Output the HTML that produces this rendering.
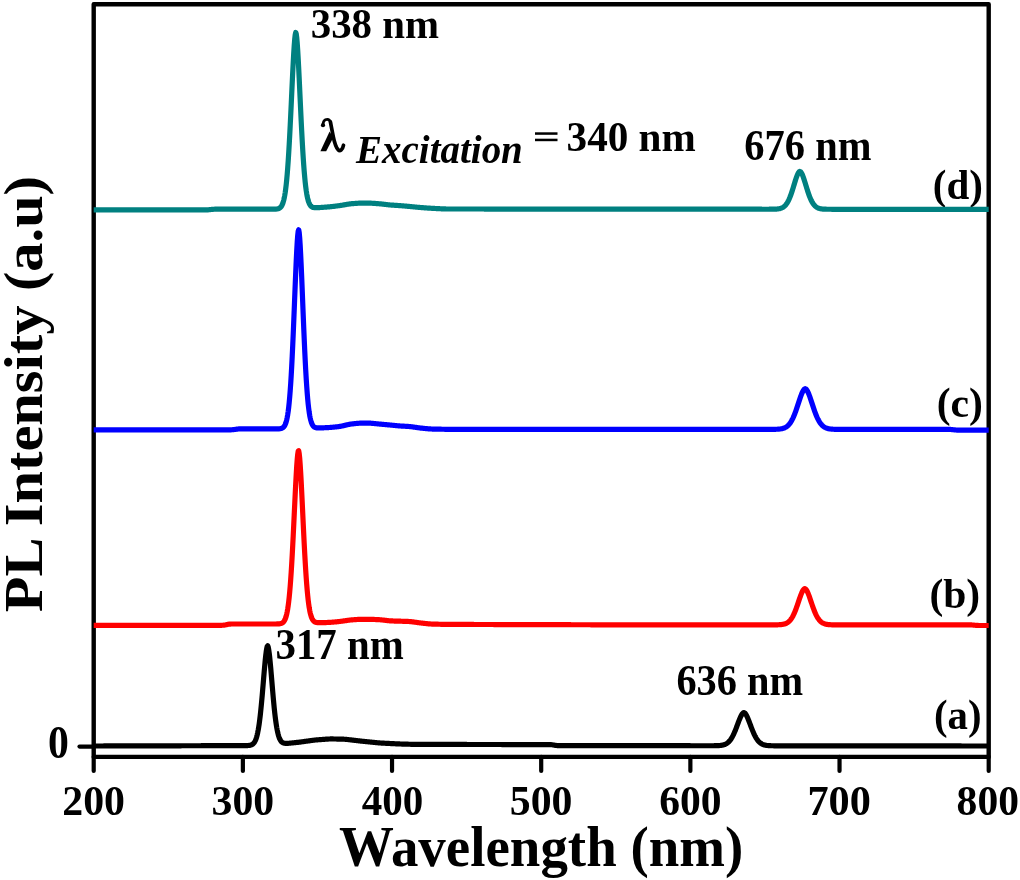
<!DOCTYPE html>
<html><head><meta charset="utf-8"><style>html,body{margin:0;padding:0;background:#fff;overflow:hidden}svg{display:block;filter:blur(0.6px)}</style></head>
<body><svg width="1020" height="880" viewBox="0 0 1020 880"><rect width="100%" height="100%" fill="#fff"/><g fill="#000"><text x="310.76" y="37.90" font-family="Liberation Serif" font-weight="bold" font-size="42.7" textLength="128.23" lengthAdjust="spacingAndGlyphs" >338 nm</text><text x="744.32" y="160.10" font-family="Liberation Serif" font-weight="bold" font-size="44.2" textLength="127.08" lengthAdjust="spacingAndGlyphs" >676 nm</text><text x="275.46" y="658.50" font-family="Liberation Serif" font-weight="bold" font-size="43.5" textLength="128.23" lengthAdjust="spacingAndGlyphs" >317 nm</text><text x="676.42" y="695.20" font-family="Liberation Serif" font-weight="bold" font-size="43.9" textLength="126.77" lengthAdjust="spacingAndGlyphs" >636 nm</text><text x="566.55" y="151.10" font-family="Liberation Serif" font-weight="bold" font-size="43.1" textLength="129.25" lengthAdjust="spacingAndGlyphs" >340 nm</text><rect x="535" y="132.3" width="22.5" height="2.5"/><rect x="535" y="138.7" width="22.5" height="2.5"/><text x="356.09" y="162.60" font-family="Liberation Serif" font-weight="bold" font-style="italic" font-size="40.8" textLength="166.72" lengthAdjust="spacingAndGlyphs" >Excitation</text><path d="M322.9,125.6 C322.9,121.5 324.8,119.4 327.3,119.4 C329.2,119.4 330.3,120.8 330.8,123" fill="none" stroke="#000" stroke-width="2.7" stroke-linecap="round"/><path d="M330.4,121.8 L333.2,136.4 C334.4,142.2 335.8,147.2 338,149.6 C340,151.6 342.6,150.2 343.5,145.2" fill="none" stroke="#000" stroke-width="3.7" stroke-linecap="round"/><circle cx="323" cy="125.2" r="2.1"/><path d="M329.6,131.6 L333.3,137.6 L326.2,151.3 L320.4,151.3 Z"/><text x="932.80" y="199.00" font-family="Liberation Serif" font-weight="bold" font-size="42.3" textLength="50.10" lengthAdjust="spacingAndGlyphs" >(d)</text><text x="936.67" y="416.50" font-family="Liberation Serif" font-weight="bold" font-size="42.3" textLength="46.26" lengthAdjust="spacingAndGlyphs" >(c)</text><text x="929.38" y="608.30" font-family="Liberation Serif" font-weight="bold" font-size="42.3" textLength="50.75" lengthAdjust="spacingAndGlyphs" >(b)</text><text x="933.91" y="729.00" font-family="Liberation Serif" font-weight="bold" font-size="42.3" textLength="47.59" lengthAdjust="spacingAndGlyphs" >(a)</text><text x="48.11" y="757.60" font-family="Liberation Serif" font-weight="bold" font-size="46.9" textLength="20.88" lengthAdjust="spacingAndGlyphs" >0</text><text x="62.24" y="815.00" font-family="Liberation Serif" font-weight="bold" font-size="42.3" textLength="62.75" lengthAdjust="spacingAndGlyphs" >200</text><text x="211.60" y="815.00" font-family="Liberation Serif" font-weight="bold" font-size="42.3" textLength="62.56" lengthAdjust="spacingAndGlyphs" >300</text><text x="361.77" y="815.00" font-family="Liberation Serif" font-weight="bold" font-size="42.3" textLength="61.52" lengthAdjust="spacingAndGlyphs" >400</text><text x="509.83" y="815.00" font-family="Liberation Serif" font-weight="bold" font-size="42.3" textLength="62.66" lengthAdjust="spacingAndGlyphs" >500</text><text x="659.24" y="815.00" font-family="Liberation Serif" font-weight="bold" font-size="42.3" textLength="62.41" lengthAdjust="spacingAndGlyphs" >600</text><text x="807.42" y="815.00" font-family="Liberation Serif" font-weight="bold" font-size="42.3" textLength="63.43" lengthAdjust="spacingAndGlyphs" >700</text><text x="956.62" y="815.00" font-family="Liberation Serif" font-weight="bold" font-size="42.3" textLength="62.36" lengthAdjust="spacingAndGlyphs" >800</text><text x="339.03" y="865.80" font-family="Liberation Serif" font-weight="bold" font-size="56.5" textLength="404.27" lengthAdjust="spacingAndGlyphs" >Wavelength (nm)</text><g transform="rotate(-90)"><text x="-612.19" y="41.60" font-family="Liberation Serif" font-weight="bold" font-size="55" textLength="436.24" lengthAdjust="spacingAndGlyphs" >PL Intensity (a.u)</text></g></g><rect x="93.7" y="4.3" width="895.0" height="752.6" fill="none" stroke="#000" stroke-width="4.4" stroke-linejoin="round"/><g stroke="#000" stroke-width="4.2" stroke-linecap="round"><line x1="93.70" y1="756.9" x2="93.70" y2="771" /><line x1="242.87" y1="756.9" x2="242.87" y2="771" /><line x1="392.03" y1="756.9" x2="392.03" y2="771" /><line x1="541.20" y1="756.9" x2="541.20" y2="771" /><line x1="690.37" y1="756.9" x2="690.37" y2="771" /><line x1="839.53" y1="756.9" x2="839.53" y2="771" /><line x1="988.70" y1="756.9" x2="988.70" y2="771" /><line x1="79.5" y1="746.6" x2="93.7" y2="746.6"/></g><path d="M93.70,209.90 L94.20,209.90 L94.70,209.90 L95.20,209.90 L95.70,209.90 L96.20,209.90 L96.70,209.90 L97.20,209.90 L97.70,209.90 L98.20,209.90 L98.70,209.90 L99.20,209.90 L99.70,209.90 L100.20,209.90 L100.70,209.90 L101.20,209.90 L101.70,209.90 L102.20,209.90 L102.70,209.90 L103.20,209.90 L103.70,209.90 L104.20,209.90 L104.70,209.90 L105.20,209.90 L105.70,209.90 L106.20,209.90 L106.70,209.90 L107.20,209.90 L107.70,209.90 L108.20,209.90 L108.70,209.90 L109.20,209.90 L109.70,209.90 L110.20,209.90 L110.70,209.90 L111.20,209.90 L111.70,209.90 L112.20,209.90 L112.70,209.90 L113.20,209.90 L113.70,209.90 L114.20,209.90 L114.70,209.90 L115.20,209.90 L115.70,209.90 L116.20,209.90 L116.70,209.90 L117.20,209.90 L117.70,209.90 L118.20,209.90 L118.70,209.90 L119.20,209.90 L119.70,209.90 L120.20,209.90 L120.70,209.90 L121.20,209.90 L121.70,209.90 L122.20,209.90 L122.70,209.90 L123.20,209.90 L123.70,209.90 L124.20,209.90 L124.70,209.90 L125.20,209.90 L125.70,209.90 L126.20,209.90 L126.70,209.90 L127.20,209.90 L127.70,209.90 L128.20,209.90 L128.70,209.90 L129.20,209.90 L129.70,209.90 L130.20,209.90 L130.70,209.90 L131.20,209.90 L131.70,209.90 L132.20,209.90 L132.70,209.90 L133.20,209.90 L133.70,209.90 L134.20,209.90 L134.70,209.90 L135.20,209.90 L135.70,209.90 L136.20,209.90 L136.70,209.90 L137.20,209.90 L137.70,209.90 L138.20,209.90 L138.70,209.90 L139.20,209.90 L139.70,209.90 L140.20,209.90 L140.70,209.90 L141.20,209.90 L141.70,209.90 L142.20,209.90 L142.70,209.90 L143.20,209.90 L143.70,209.90 L144.20,209.90 L144.70,209.90 L145.20,209.90 L145.70,209.90 L146.20,209.90 L146.70,209.90 L147.20,209.90 L147.70,209.90 L148.20,209.90 L148.70,209.90 L149.20,209.90 L149.70,209.90 L150.20,209.90 L150.70,209.90 L151.20,209.90 L151.70,209.90 L152.20,209.90 L152.70,209.90 L153.20,209.90 L153.70,209.90 L154.20,209.90 L154.70,209.90 L155.20,209.90 L155.70,209.90 L156.20,209.90 L156.70,209.90 L157.20,209.90 L157.70,209.90 L158.20,209.90 L158.70,209.90 L159.20,209.90 L159.70,209.90 L160.20,209.90 L160.70,209.90 L161.20,209.90 L161.70,209.90 L162.20,209.90 L162.70,209.90 L163.20,209.90 L163.70,209.90 L164.20,209.90 L164.70,209.90 L165.20,209.90 L165.70,209.90 L166.20,209.90 L166.70,209.90 L167.20,209.90 L167.70,209.90 L168.20,209.90 L168.70,209.90 L169.20,209.90 L169.70,209.90 L170.20,209.90 L170.70,209.90 L171.20,209.90 L171.70,209.90 L172.20,209.90 L172.70,209.90 L173.20,209.90 L173.70,209.90 L174.20,209.90 L174.70,209.90 L175.20,209.90 L175.70,209.90 L176.20,209.90 L176.70,209.90 L177.20,209.90 L177.70,209.90 L178.20,209.90 L178.70,209.90 L179.20,209.90 L179.70,209.90 L180.20,209.90 L180.70,209.90 L181.20,209.90 L181.70,209.90 L182.20,209.90 L182.70,209.90 L183.20,209.90 L183.70,209.90 L184.20,209.90 L184.70,209.90 L185.20,209.90 L185.70,209.90 L186.20,209.90 L186.70,209.90 L187.20,209.90 L187.70,209.90 L188.20,209.90 L188.70,209.90 L189.20,209.90 L189.70,209.90 L190.20,209.90 L190.70,209.90 L191.20,209.90 L191.70,209.90 L192.20,209.90 L192.70,209.90 L193.20,209.90 L193.70,209.90 L194.20,209.90 L194.70,209.90 L195.20,209.90 L195.70,209.90 L196.20,209.90 L196.70,209.90 L197.20,209.90 L197.70,209.90 L198.20,209.90 L198.70,209.90 L199.20,209.90 L199.70,209.90 L200.20,209.90 L200.70,209.90 L201.20,209.90 L201.70,209.90 L202.20,209.90 L202.70,209.90 L203.20,209.90 L203.70,209.90 L204.20,209.90 L204.70,209.90 L205.20,209.90 L205.70,209.89 L206.20,209.88 L206.70,209.87 L207.20,209.85 L207.70,209.83 L208.20,209.80 L208.70,209.76 L209.20,209.71 L209.70,209.65 L210.20,209.59 L210.70,209.52 L211.20,209.46 L211.70,209.40 L212.20,209.35 L212.70,209.31 L213.20,209.28 L213.70,209.25 L214.20,209.23 L214.70,209.22 L215.20,209.21 L215.70,209.21 L216.20,209.20 L216.70,209.20 L217.20,209.20 L217.70,209.20 L218.20,209.20 L218.70,209.20 L219.20,209.20 L219.70,209.20 L220.20,209.20 L220.70,209.20 L221.20,209.20 L221.70,209.20 L222.20,209.20 L222.70,209.20 L223.20,209.20 L223.70,209.20 L224.20,209.20 L224.70,209.20 L225.20,209.20 L225.70,209.20 L226.20,209.20 L226.70,209.20 L227.20,209.20 L227.70,209.20 L228.20,209.20 L228.70,209.20 L229.20,209.20 L229.70,209.20 L230.20,209.20 L230.70,209.20 L231.20,209.20 L231.70,209.20 L232.20,209.20 L232.70,209.20 L233.20,209.20 L233.70,209.20 L234.20,209.20 L234.70,209.20 L235.20,209.20 L235.70,209.20 L236.20,209.20 L236.70,209.20 L237.20,209.20 L237.70,209.20 L238.20,209.20 L238.70,209.20 L239.20,209.20 L239.70,209.20 L240.20,209.20 L240.70,209.20 L241.20,209.20 L241.70,209.20 L242.20,209.20 L242.70,209.20 L243.20,209.20 L243.70,209.20 L244.20,209.20 L244.70,209.20 L245.20,209.20 L245.70,209.20 L246.20,209.20 L246.70,209.20 L247.20,209.20 L247.70,209.20 L248.20,209.20 L248.70,209.20 L249.20,209.20 L249.70,209.20 L250.20,209.20 L250.70,209.20 L251.20,209.20 L251.70,209.20 L252.20,209.20 L252.70,209.20 L253.20,209.20 L253.70,209.20 L254.20,209.20 L254.70,209.20 L255.20,209.20 L255.70,209.20 L256.20,209.20 L256.70,209.20 L257.20,209.20 L257.70,209.20 L258.20,209.20 L258.70,209.20 L259.20,209.20 L259.70,209.20 L260.20,209.20 L260.70,209.20 L261.20,209.20 L261.70,209.20 L262.20,209.20 L262.70,209.20 L263.20,209.20 L263.70,209.20 L264.20,209.20 L264.70,209.20 L265.20,209.20 L265.70,209.20 L266.20,209.20 L266.70,209.20 L267.20,209.20 L267.70,209.20 L268.20,209.20 L268.70,209.20 L269.20,209.20 L269.70,209.20 L270.20,209.20 L270.70,209.20 L271.20,209.20 L271.70,209.19 L272.20,209.19 L272.70,209.19 L273.20,209.18 L273.70,209.18 L274.20,209.17 L274.70,209.15 L275.20,209.13 L275.70,209.10 L276.20,209.06 L276.70,209.01 L277.20,208.94 L277.70,208.84 L278.20,208.71 L278.70,208.54 L279.20,208.32 L279.70,208.03 L280.20,207.65 L280.70,207.17 L281.20,206.55 L281.70,205.78 L282.20,204.82 L282.70,203.63 L283.20,202.16 L283.70,200.37 L284.20,198.21 L284.70,195.63 L285.20,192.55 L285.70,188.94 L286.20,184.73 L286.70,179.86 L287.20,174.31 L287.70,168.02 L288.20,160.98 L288.70,153.20 L289.20,144.69 L289.70,135.50 L290.20,125.71 L290.70,115.42 L291.20,104.79 L291.70,93.99 L292.20,83.22 L292.70,72.74 L293.20,62.82 L293.70,53.74 L294.20,45.81 L294.70,39.37 L295.20,34.78 L295.70,32.50 L296.20,33.53 L296.70,37.23 L297.20,42.94 L297.70,50.27 L298.20,58.90 L298.70,68.49 L299.20,78.74 L299.70,89.39 L300.20,100.17 L300.70,110.85 L301.20,121.26 L301.70,131.23 L302.20,140.63 L302.70,149.39 L303.20,157.43 L303.70,164.73 L304.20,171.28 L304.70,177.09 L305.20,182.19 L305.70,186.62 L306.20,190.43 L306.70,193.67 L307.20,196.41 L307.70,198.70 L308.20,200.59 L308.70,202.15 L309.20,203.41 L309.70,204.43 L310.20,205.24 L310.70,205.88 L311.20,206.37 L311.70,206.76 L312.20,207.05 L312.70,207.27 L313.20,207.44 L313.70,207.55 L314.20,207.63 L314.70,207.68 L315.20,207.71 L315.70,207.72 L316.20,207.72 L316.70,207.71 L317.20,207.70 L317.70,207.67 L318.20,207.64 L318.70,207.61 L319.20,207.58 L319.70,207.55 L320.20,207.51 L320.70,207.48 L321.20,207.44 L321.70,207.41 L322.20,207.37 L322.70,207.33 L323.20,207.30 L323.70,207.26 L324.20,207.23 L324.70,207.19 L325.20,207.15 L325.70,207.11 L326.20,207.08 L326.70,207.04 L327.20,207.00 L327.70,206.96 L328.20,206.92 L328.70,206.88 L329.20,206.84 L329.70,206.79 L330.20,206.74 L330.70,206.69 L331.20,206.64 L331.70,206.59 L332.20,206.53 L332.70,206.47 L333.20,206.41 L333.70,206.35 L334.20,206.30 L334.70,206.24 L335.20,206.18 L335.70,206.12 L336.20,206.05 L336.70,205.99 L337.20,205.93 L337.70,205.87 L338.20,205.80 L338.70,205.74 L339.20,205.67 L339.70,205.60 L340.20,205.52 L340.70,205.44 L341.20,205.36 L341.70,205.28 L342.20,205.20 L342.70,205.11 L343.20,205.02 L343.70,204.93 L344.20,204.84 L344.70,204.75 L345.20,204.66 L345.70,204.58 L346.20,204.49 L346.70,204.40 L347.20,204.31 L347.70,204.23 L348.20,204.15 L348.70,204.07 L349.20,203.99 L349.70,203.93 L350.20,203.86 L350.70,203.81 L351.20,203.75 L351.70,203.70 L352.20,203.66 L352.70,203.62 L353.20,203.58 L353.70,203.54 L354.20,203.51 L354.70,203.47 L355.20,203.44 L355.70,203.40 L356.20,203.37 L356.70,203.33 L357.20,203.30 L357.70,203.27 L358.20,203.24 L358.70,203.21 L359.20,203.19 L359.70,203.17 L360.20,203.15 L360.70,203.13 L361.20,203.12 L361.70,203.12 L362.20,203.11 L362.70,203.11 L363.20,203.10 L363.70,203.10 L364.20,203.10 L364.70,203.10 L365.20,203.10 L365.70,203.10 L366.20,203.10 L366.70,203.10 L367.20,203.10 L367.70,203.11 L368.20,203.11 L368.70,203.12 L369.20,203.13 L369.70,203.15 L370.20,203.16 L370.70,203.18 L371.20,203.21 L371.70,203.23 L372.20,203.26 L372.70,203.29 L373.20,203.33 L373.70,203.36 L374.20,203.39 L374.70,203.43 L375.20,203.46 L375.70,203.50 L376.20,203.53 L376.70,203.57 L377.20,203.61 L377.70,203.65 L378.20,203.68 L378.70,203.72 L379.20,203.77 L379.70,203.81 L380.20,203.86 L380.70,203.91 L381.20,203.96 L381.70,204.01 L382.20,204.07 L382.70,204.13 L383.20,204.19 L383.70,204.25 L384.20,204.30 L384.70,204.36 L385.20,204.42 L385.70,204.48 L386.20,204.54 L386.70,204.60 L387.20,204.66 L387.70,204.72 L388.20,204.77 L388.70,204.83 L389.20,204.88 L389.70,204.92 L390.20,204.97 L390.70,205.01 L391.20,205.05 L391.70,205.09 L392.20,205.12 L392.70,205.16 L393.20,205.19 L393.70,205.22 L394.20,205.25 L394.70,205.28 L395.20,205.31 L395.70,205.34 L396.20,205.37 L396.70,205.40 L397.20,205.43 L397.70,205.47 L398.20,205.50 L398.70,205.53 L399.20,205.57 L399.70,205.60 L400.20,205.64 L400.70,205.68 L401.20,205.72 L401.70,205.76 L402.20,205.80 L402.70,205.85 L403.20,205.89 L403.70,205.93 L404.20,205.98 L404.70,206.02 L405.20,206.07 L405.70,206.11 L406.20,206.16 L406.70,206.20 L407.20,206.25 L407.70,206.29 L408.20,206.34 L408.70,206.39 L409.20,206.43 L409.70,206.48 L410.20,206.53 L410.70,206.57 L411.20,206.62 L411.70,206.67 L412.20,206.72 L412.70,206.77 L413.20,206.82 L413.70,206.87 L414.20,206.92 L414.70,206.97 L415.20,207.02 L415.70,207.07 L416.20,207.12 L416.70,207.17 L417.20,207.22 L417.70,207.27 L418.20,207.31 L418.70,207.36 L419.20,207.41 L419.70,207.45 L420.20,207.49 L420.70,207.53 L421.20,207.57 L421.70,207.61 L422.20,207.65 L422.70,207.69 L423.20,207.72 L423.70,207.76 L424.20,207.79 L424.70,207.83 L425.20,207.86 L425.70,207.90 L426.20,207.93 L426.70,207.97 L427.20,208.00 L427.70,208.04 L428.20,208.07 L428.70,208.10 L429.20,208.14 L429.70,208.17 L430.20,208.20 L430.70,208.23 L431.20,208.26 L431.70,208.29 L432.20,208.32 L432.70,208.34 L433.20,208.37 L433.70,208.40 L434.20,208.42 L434.70,208.45 L435.20,208.48 L435.70,208.50 L436.20,208.53 L436.70,208.56 L437.20,208.58 L437.70,208.61 L438.20,208.64 L438.70,208.66 L439.20,208.69 L439.70,208.72 L440.20,208.74 L440.70,208.77 L441.20,208.80 L441.70,208.82 L442.20,208.85 L442.70,208.87 L443.20,208.89 L443.70,208.91 L444.20,208.93 L444.70,208.95 L445.20,208.96 L445.70,208.97 L446.20,208.98 L446.70,208.99 L447.20,208.99 L447.70,209.00 L448.20,209.00 L448.70,209.00 L449.20,209.00 L449.70,209.00 L450.20,209.00 L450.70,209.00 L451.20,209.00 L451.70,209.00 L452.20,209.00 L452.70,209.00 L453.20,209.01 L453.70,209.01 L454.20,209.01 L454.70,209.01 L455.20,209.01 L455.70,209.01 L456.20,209.01 L456.70,209.01 L457.20,209.01 L457.70,209.01 L458.20,209.01 L458.70,209.01 L459.20,209.01 L459.70,209.01 L460.20,209.01 L460.70,209.01 L461.20,209.01 L461.70,209.01 L462.20,209.01 L462.70,209.01 L463.20,209.01 L463.70,209.01 L464.20,209.01 L464.70,209.01 L465.20,209.01 L465.70,209.01 L466.20,209.01 L466.70,209.01 L467.20,209.01 L467.70,209.01 L468.20,209.01 L468.70,209.02 L469.20,209.02 L469.70,209.02 L470.20,209.02 L470.70,209.02 L471.20,209.02 L471.70,209.02 L472.20,209.02 L472.70,209.02 L473.20,209.02 L473.70,209.02 L474.20,209.02 L474.70,209.02 L475.20,209.02 L475.70,209.02 L476.20,209.02 L476.70,209.02 L477.20,209.02 L477.70,209.02 L478.20,209.02 L478.70,209.02 L479.20,209.02 L479.70,209.02 L480.20,209.02 L480.70,209.02 L481.20,209.02 L481.70,209.02 L482.20,209.02 L482.70,209.02 L483.20,209.02 L483.70,209.02 L484.20,209.03 L484.70,209.03 L485.20,209.03 L485.70,209.03 L486.20,209.03 L486.70,209.03 L487.20,209.03 L487.70,209.03 L488.20,209.03 L488.70,209.03 L489.20,209.03 L489.70,209.03 L490.20,209.03 L490.70,209.03 L491.20,209.03 L491.70,209.03 L492.20,209.03 L492.70,209.03 L493.20,209.03 L493.70,209.03 L494.20,209.03 L494.70,209.03 L495.20,209.03 L495.70,209.03 L496.20,209.03 L496.70,209.03 L497.20,209.03 L497.70,209.03 L498.20,209.03 L498.70,209.03 L499.20,209.03 L499.70,209.04 L500.20,209.04 L500.70,209.04 L501.20,209.04 L501.70,209.04 L502.20,209.04 L502.70,209.04 L503.20,209.04 L503.70,209.04 L504.20,209.04 L504.70,209.04 L505.20,209.04 L505.70,209.04 L506.20,209.04 L506.70,209.04 L507.20,209.04 L507.70,209.04 L508.20,209.04 L508.70,209.04 L509.20,209.04 L509.70,209.04 L510.20,209.04 L510.70,209.04 L511.20,209.04 L511.70,209.04 L512.20,209.04 L512.70,209.04 L513.20,209.04 L513.70,209.04 L514.20,209.04 L514.70,209.04 L515.20,209.05 L515.70,209.05 L516.20,209.05 L516.70,209.05 L517.20,209.05 L517.70,209.05 L518.20,209.05 L518.70,209.05 L519.20,209.05 L519.70,209.05 L520.20,209.05 L520.70,209.05 L521.20,209.05 L521.70,209.05 L522.20,209.05 L522.70,209.05 L523.20,209.05 L523.70,209.05 L524.20,209.05 L524.70,209.05 L525.20,209.05 L525.70,209.05 L526.20,209.05 L526.70,209.05 L527.20,209.05 L527.70,209.05 L528.20,209.05 L528.70,209.05 L529.20,209.05 L529.70,209.05 L530.20,209.05 L530.70,209.06 L531.20,209.06 L531.70,209.06 L532.20,209.06 L532.70,209.06 L533.20,209.06 L533.70,209.06 L534.20,209.06 L534.70,209.06 L535.20,209.06 L535.70,209.06 L536.20,209.06 L536.70,209.06 L537.20,209.06 L537.70,209.06 L538.20,209.06 L538.70,209.06 L539.20,209.06 L539.70,209.06 L540.20,209.06 L540.70,209.06 L541.20,209.06 L541.70,209.06 L542.20,209.06 L542.70,209.06 L543.20,209.06 L543.70,209.06 L544.20,209.06 L544.70,209.06 L545.20,209.06 L545.70,209.06 L546.20,209.07 L546.70,209.07 L547.20,209.07 L547.70,209.07 L548.20,209.07 L548.70,209.07 L549.20,209.07 L549.70,209.07 L550.20,209.07 L550.70,209.07 L551.20,209.07 L551.70,209.07 L552.20,209.07 L552.70,209.07 L553.20,209.07 L553.70,209.07 L554.20,209.07 L554.70,209.07 L555.20,209.07 L555.70,209.07 L556.20,209.07 L556.70,209.07 L557.20,209.07 L557.70,209.07 L558.20,209.07 L558.70,209.07 L559.20,209.07 L559.70,209.07 L560.20,209.07 L560.70,209.07 L561.20,209.07 L561.70,209.08 L562.20,209.08 L562.70,209.08 L563.20,209.08 L563.70,209.08 L564.20,209.08 L564.70,209.08 L565.20,209.08 L565.70,209.08 L566.20,209.08 L566.70,209.08 L567.20,209.08 L567.70,209.08 L568.20,209.08 L568.70,209.08 L569.20,209.08 L569.70,209.08 L570.20,209.08 L570.70,209.08 L571.20,209.08 L571.70,209.08 L572.20,209.08 L572.70,209.08 L573.20,209.08 L573.70,209.08 L574.20,209.08 L574.70,209.08 L575.20,209.08 L575.70,209.08 L576.20,209.08 L576.70,209.08 L577.20,209.09 L577.70,209.09 L578.20,209.09 L578.70,209.09 L579.20,209.09 L579.70,209.09 L580.20,209.09 L580.70,209.09 L581.20,209.09 L581.70,209.09 L582.20,209.09 L582.70,209.09 L583.20,209.09 L583.70,209.09 L584.20,209.09 L584.70,209.09 L585.20,209.09 L585.70,209.09 L586.20,209.09 L586.70,209.09 L587.20,209.09 L587.70,209.09 L588.20,209.09 L588.70,209.09 L589.20,209.09 L589.70,209.09 L590.20,209.09 L590.70,209.09 L591.20,209.09 L591.70,209.09 L592.20,209.09 L592.70,209.10 L593.20,209.10 L593.70,209.10 L594.20,209.10 L594.70,209.10 L595.20,209.10 L595.70,209.10 L596.20,209.10 L596.70,209.10 L597.20,209.10 L597.70,209.10 L598.20,209.10 L598.70,209.10 L599.20,209.10 L599.70,209.10 L600.20,209.10 L600.70,209.10 L601.20,209.10 L601.70,209.10 L602.20,209.10 L602.70,209.10 L603.20,209.10 L603.70,209.10 L604.20,209.10 L604.70,209.10 L605.20,209.10 L605.70,209.10 L606.20,209.10 L606.70,209.11 L607.20,209.11 L607.70,209.11 L608.20,209.11 L608.70,209.11 L609.20,209.11 L609.70,209.11 L610.20,209.11 L610.70,209.11 L611.20,209.11 L611.70,209.11 L612.20,209.11 L612.70,209.11 L613.20,209.11 L613.70,209.11 L614.20,209.11 L614.70,209.11 L615.20,209.11 L615.70,209.11 L616.20,209.11 L616.70,209.11 L617.20,209.11 L617.70,209.11 L618.20,209.11 L618.70,209.11 L619.20,209.11 L619.70,209.12 L620.20,209.12 L620.70,209.12 L621.20,209.12 L621.70,209.12 L622.20,209.12 L622.70,209.12 L623.20,209.12 L623.70,209.12 L624.20,209.12 L624.70,209.12 L625.20,209.12 L625.70,209.12 L626.20,209.12 L626.70,209.12 L627.20,209.12 L627.70,209.12 L628.20,209.12 L628.70,209.12 L629.20,209.12 L629.70,209.12 L630.20,209.12 L630.70,209.12 L631.20,209.12 L631.70,209.12 L632.20,209.12 L632.70,209.13 L633.20,209.13 L633.70,209.13 L634.20,209.13 L634.70,209.13 L635.20,209.13 L635.70,209.13 L636.20,209.13 L636.70,209.13 L637.20,209.13 L637.70,209.13 L638.20,209.13 L638.70,209.13 L639.20,209.13 L639.70,209.13 L640.20,209.13 L640.70,209.13 L641.20,209.13 L641.70,209.13 L642.20,209.13 L642.70,209.13 L643.20,209.13 L643.70,209.13 L644.20,209.13 L644.70,209.13 L645.20,209.13 L645.70,209.14 L646.20,209.14 L646.70,209.14 L647.20,209.14 L647.70,209.14 L648.20,209.14 L648.70,209.14 L649.20,209.14 L649.70,209.14 L650.20,209.14 L650.70,209.14 L651.20,209.14 L651.70,209.14 L652.20,209.14 L652.70,209.14 L653.20,209.14 L653.70,209.14 L654.20,209.14 L654.70,209.14 L655.20,209.14 L655.70,209.14 L656.20,209.14 L656.70,209.14 L657.20,209.14 L657.70,209.14 L658.20,209.14 L658.70,209.15 L659.20,209.15 L659.70,209.15 L660.20,209.15 L660.70,209.15 L661.20,209.15 L661.70,209.15 L662.20,209.15 L662.70,209.15 L663.20,209.15 L663.70,209.15 L664.20,209.15 L664.70,209.15 L665.20,209.15 L665.70,209.15 L666.20,209.15 L666.70,209.15 L667.20,209.15 L667.70,209.15 L668.20,209.15 L668.70,209.15 L669.20,209.15 L669.70,209.15 L670.20,209.15 L670.70,209.15 L671.20,209.15 L671.70,209.16 L672.20,209.16 L672.70,209.16 L673.20,209.16 L673.70,209.16 L674.20,209.16 L674.70,209.16 L675.20,209.16 L675.70,209.16 L676.20,209.16 L676.70,209.16 L677.20,209.16 L677.70,209.16 L678.20,209.16 L678.70,209.16 L679.20,209.16 L679.70,209.16 L680.20,209.16 L680.70,209.16 L681.20,209.16 L681.70,209.16 L682.20,209.16 L682.70,209.16 L683.20,209.16 L683.70,209.16 L684.20,209.16 L684.70,209.17 L685.20,209.17 L685.70,209.17 L686.20,209.17 L686.70,209.17 L687.20,209.17 L687.70,209.17 L688.20,209.17 L688.70,209.17 L689.20,209.17 L689.70,209.17 L690.20,209.17 L690.70,209.17 L691.20,209.17 L691.70,209.17 L692.20,209.17 L692.70,209.17 L693.20,209.17 L693.70,209.17 L694.20,209.17 L694.70,209.17 L695.20,209.17 L695.70,209.17 L696.20,209.17 L696.70,209.17 L697.20,209.18 L697.70,209.18 L698.20,209.18 L698.70,209.18 L699.20,209.18 L699.70,209.18 L700.20,209.18 L700.70,209.18 L701.20,209.18 L701.70,209.18 L702.20,209.18 L702.70,209.18 L703.20,209.18 L703.70,209.18 L704.20,209.18 L704.70,209.18 L705.20,209.18 L705.70,209.18 L706.20,209.18 L706.70,209.18 L707.20,209.18 L707.70,209.18 L708.20,209.18 L708.70,209.18 L709.20,209.18 L709.70,209.18 L710.20,209.19 L710.70,209.19 L711.20,209.19 L711.70,209.19 L712.20,209.19 L712.70,209.19 L713.20,209.19 L713.70,209.19 L714.20,209.19 L714.70,209.19 L715.20,209.19 L715.70,209.19 L716.20,209.19 L716.70,209.19 L717.20,209.19 L717.70,209.19 L718.20,209.19 L718.70,209.19 L719.20,209.19 L719.70,209.19 L720.20,209.19 L720.70,209.19 L721.20,209.19 L721.70,209.19 L722.20,209.19 L722.70,209.19 L723.20,209.20 L723.70,209.20 L724.20,209.20 L724.70,209.20 L725.20,209.20 L725.70,209.20 L726.20,209.20 L726.70,209.20 L727.20,209.20 L727.70,209.20 L728.20,209.20 L728.70,209.20 L729.20,209.20 L729.70,209.20 L730.20,209.20 L730.70,209.20 L731.20,209.20 L731.70,209.20 L732.20,209.20 L732.70,209.20 L733.20,209.20 L733.70,209.20 L734.20,209.20 L734.70,209.20 L735.20,209.20 L735.70,209.20 L736.20,209.21 L736.70,209.21 L737.20,209.21 L737.70,209.21 L738.20,209.21 L738.70,209.21 L739.20,209.21 L739.70,209.21 L740.20,209.21 L740.70,209.21 L741.20,209.21 L741.70,209.21 L742.20,209.21 L742.70,209.21 L743.20,209.21 L743.70,209.21 L744.20,209.21 L744.70,209.21 L745.20,209.21 L745.70,209.21 L746.20,209.21 L746.70,209.21 L747.20,209.21 L747.70,209.21 L748.20,209.21 L748.70,209.21 L749.20,209.22 L749.70,209.22 L750.20,209.22 L750.70,209.22 L751.20,209.22 L751.70,209.22 L752.20,209.22 L752.70,209.22 L753.20,209.22 L753.70,209.22 L754.20,209.22 L754.70,209.22 L755.20,209.22 L755.70,209.22 L756.20,209.22 L756.70,209.22 L757.20,209.22 L757.70,209.22 L758.20,209.22 L758.70,209.22 L759.20,209.22 L759.70,209.22 L760.20,209.22 L760.70,209.22 L761.20,209.22 L761.70,209.22 L762.20,209.23 L762.70,209.23 L763.20,209.23 L763.70,209.23 L764.20,209.23 L764.70,209.23 L765.20,209.23 L765.70,209.23 L766.20,209.23 L766.70,209.23 L767.20,209.23 L767.70,209.23 L768.20,209.23 L768.70,209.23 L769.20,209.22 L769.70,209.22 L770.20,209.22 L770.70,209.22 L771.20,209.21 L771.70,209.21 L772.20,209.21 L772.70,209.20 L773.20,209.19 L773.70,209.18 L774.20,209.17 L774.70,209.15 L775.20,209.13 L775.70,209.10 L776.20,209.07 L776.70,209.04 L777.20,208.99 L777.70,208.94 L778.20,208.88 L778.70,208.80 L779.20,208.71 L779.70,208.61 L780.20,208.48 L780.70,208.33 L781.20,208.16 L781.70,207.97 L782.20,207.74 L782.70,207.47 L783.20,207.17 L783.70,206.82 L784.20,206.43 L784.70,205.98 L785.20,205.48 L785.70,204.92 L786.20,204.29 L786.70,203.59 L787.20,202.82 L787.70,201.98 L788.20,201.06 L788.70,200.05 L789.20,198.96 L789.70,197.80 L790.20,196.55 L790.70,195.23 L791.20,193.83 L791.70,192.36 L792.20,190.84 L792.70,189.27 L793.20,187.65 L793.70,186.01 L794.20,184.37 L794.70,182.72 L795.20,181.11 L795.70,179.54 L796.20,178.03 L796.70,176.62 L797.20,175.32 L797.70,174.15 L798.20,173.16 L798.70,172.35 L799.20,171.76 L799.70,171.44 L800.20,171.48 L800.70,171.86 L801.20,172.50 L801.70,173.34 L802.20,174.38 L802.70,175.57 L803.20,176.90 L803.70,178.33 L804.20,179.85 L804.70,181.44 L805.20,183.06 L805.70,184.71 L806.20,186.35 L806.70,187.99 L807.20,189.59 L807.70,191.16 L808.20,192.67 L808.70,194.13 L809.20,195.51 L809.70,196.82 L810.20,198.05 L810.70,199.21 L811.20,200.28 L811.70,201.26 L812.20,202.17 L812.70,203.00 L813.20,203.76 L813.70,204.44 L814.20,205.06 L814.70,205.61 L815.20,206.10 L815.70,206.54 L816.20,206.92 L816.70,207.26 L817.20,207.55 L817.70,207.81 L818.20,208.04 L818.70,208.23 L819.20,208.40 L819.70,208.54 L820.20,208.66 L820.70,208.76 L821.20,208.85 L821.70,208.92 L822.20,208.99 L822.70,209.04 L823.20,209.08 L823.70,209.12 L824.20,209.15 L824.70,209.17 L825.20,209.19 L825.70,209.21 L826.20,209.22 L826.70,209.23 L827.20,209.24 L827.70,209.25 L828.20,209.26 L828.70,209.26 L829.20,209.26 L829.70,209.27 L830.20,209.27 L830.70,209.27 L831.20,209.27 L831.70,209.28 L832.20,209.28 L832.70,209.28 L833.20,209.28 L833.70,209.28 L834.20,209.28 L834.70,209.28 L835.20,209.28 L835.70,209.28 L836.20,209.28 L836.70,209.28 L837.20,209.28 L837.70,209.28 L838.20,209.28 L838.70,209.28 L839.20,209.28 L839.70,209.28 L840.20,209.29 L840.70,209.29 L841.20,209.29 L841.70,209.29 L842.20,209.29 L842.70,209.29 L843.20,209.29 L843.70,209.29 L844.20,209.29 L844.70,209.29 L845.20,209.29 L845.70,209.29 L846.20,209.29 L846.70,209.29 L847.20,209.29 L847.70,209.29 L848.20,209.29 L848.70,209.29 L849.20,209.29 L849.70,209.29 L850.20,209.29 L850.70,209.29 L851.20,209.29 L851.70,209.29 L852.20,209.29 L852.70,209.30 L853.20,209.30 L853.70,209.30 L854.20,209.30 L854.70,209.30 L855.20,209.30 L855.70,209.30 L856.20,209.30 L856.70,209.30 L857.20,209.30 L857.70,209.30 L858.20,209.30 L858.70,209.30 L859.20,209.30 L859.70,209.30 L860.20,209.30 L860.70,209.30 L861.20,209.30 L861.70,209.30 L862.20,209.30 L862.70,209.30 L863.20,209.30 L863.70,209.30 L864.20,209.30 L864.70,209.30 L865.20,209.30 L865.70,209.31 L866.20,209.31 L866.70,209.31 L867.20,209.31 L867.70,209.31 L868.20,209.31 L868.70,209.31 L869.20,209.31 L869.70,209.31 L870.20,209.31 L870.70,209.31 L871.20,209.31 L871.70,209.31 L872.20,209.31 L872.70,209.31 L873.20,209.31 L873.70,209.31 L874.20,209.31 L874.70,209.31 L875.20,209.31 L875.70,209.31 L876.20,209.31 L876.70,209.31 L877.20,209.31 L877.70,209.31 L878.20,209.31 L878.70,209.32 L879.20,209.32 L879.70,209.32 L880.20,209.32 L880.70,209.32 L881.20,209.32 L881.70,209.32 L882.20,209.32 L882.70,209.32 L883.20,209.32 L883.70,209.32 L884.20,209.32 L884.70,209.32 L885.20,209.32 L885.70,209.32 L886.20,209.32 L886.70,209.32 L887.20,209.32 L887.70,209.32 L888.20,209.32 L888.70,209.32 L889.20,209.32 L889.70,209.32 L890.20,209.32 L890.70,209.32 L891.20,209.32 L891.70,209.33 L892.20,209.33 L892.70,209.33 L893.20,209.33 L893.70,209.33 L894.20,209.33 L894.70,209.33 L895.20,209.33 L895.70,209.33 L896.20,209.33 L896.70,209.33 L897.20,209.33 L897.70,209.33 L898.20,209.33 L898.70,209.33 L899.20,209.33 L899.70,209.33 L900.20,209.33 L900.70,209.33 L901.20,209.33 L901.70,209.33 L902.20,209.33 L902.70,209.33 L903.20,209.33 L903.70,209.33 L904.20,209.33 L904.70,209.34 L905.20,209.34 L905.70,209.34 L906.20,209.34 L906.70,209.34 L907.20,209.34 L907.70,209.34 L908.20,209.34 L908.70,209.34 L909.20,209.34 L909.70,209.34 L910.20,209.34 L910.70,209.34 L911.20,209.34 L911.70,209.34 L912.20,209.34 L912.70,209.34 L913.20,209.34 L913.70,209.34 L914.20,209.34 L914.70,209.34 L915.20,209.34 L915.70,209.34 L916.20,209.34 L916.70,209.34 L917.20,209.34 L917.70,209.35 L918.20,209.35 L918.70,209.35 L919.20,209.35 L919.70,209.35 L920.20,209.35 L920.70,209.35 L921.20,209.35 L921.70,209.35 L922.20,209.35 L922.70,209.35 L923.20,209.35 L923.70,209.35 L924.20,209.35 L924.70,209.35 L925.20,209.35 L925.70,209.35 L926.20,209.35 L926.70,209.35 L927.20,209.35 L927.70,209.35 L928.20,209.35 L928.70,209.35 L929.20,209.35 L929.70,209.35 L930.20,209.35 L930.70,209.36 L931.20,209.36 L931.70,209.36 L932.20,209.36 L932.70,209.36 L933.20,209.36 L933.70,209.36 L934.20,209.36 L934.70,209.36 L935.20,209.36 L935.70,209.36 L936.20,209.36 L936.70,209.36 L937.20,209.36 L937.70,209.36 L938.20,209.36 L938.70,209.36 L939.20,209.36 L939.70,209.36 L940.20,209.36 L940.70,209.36 L941.20,209.36 L941.70,209.36 L942.20,209.36 L942.70,209.36 L943.20,209.36 L943.70,209.37 L944.20,209.37 L944.70,209.37 L945.20,209.37 L945.70,209.37 L946.20,209.37 L946.70,209.37 L947.20,209.37 L947.70,209.37 L948.20,209.37 L948.70,209.37 L949.20,209.37 L949.70,209.37 L950.20,209.37 L950.70,209.37 L951.20,209.37 L951.70,209.37 L952.20,209.37 L952.70,209.37 L953.20,209.37 L953.70,209.37 L954.20,209.37 L954.70,209.37 L955.20,209.37 L955.70,209.37 L956.20,209.37 L956.70,209.38 L957.20,209.38 L957.70,209.38 L958.20,209.38 L958.70,209.38 L959.20,209.38 L959.70,209.38 L960.20,209.38 L960.70,209.38 L961.20,209.38 L961.70,209.38 L962.20,209.38 L962.70,209.38 L963.20,209.38 L963.70,209.38 L964.20,209.38 L964.70,209.38 L965.20,209.38 L965.70,209.38 L966.20,209.38 L966.70,209.38 L967.20,209.38 L967.70,209.38 L968.20,209.38 L968.70,209.38 L969.20,209.38 L969.70,209.39 L970.20,209.39 L970.70,209.39 L971.20,209.39 L971.70,209.39 L972.20,209.39 L972.70,209.39 L973.20,209.39 L973.70,209.39 L974.20,209.39 L974.70,209.39 L975.20,209.39 L975.70,209.39 L976.20,209.39 L976.70,209.39 L977.20,209.39 L977.70,209.39 L978.20,209.39 L978.70,209.39 L979.20,209.39 L979.70,209.39 L980.20,209.39 L980.70,209.39 L981.20,209.39 L981.70,209.39 L982.20,209.39 L982.70,209.40 L983.20,209.40 L983.70,209.40 L984.20,209.40 L984.70,209.40 L985.20,209.40 L985.70,209.40 L986.20,209.40 L986.70,209.40 L987.20,209.40 L987.70,209.40 L988.20,209.40 L988.70,209.40" fill="none" stroke="#008080" stroke-width="5.2" stroke-linejoin="round"/><path d="M93.70,429.80 L94.20,429.80 L94.70,429.80 L95.20,429.80 L95.70,429.80 L96.20,429.80 L96.70,429.80 L97.20,429.80 L97.70,429.80 L98.20,429.80 L98.70,429.80 L99.20,429.80 L99.70,429.80 L100.20,429.80 L100.70,429.80 L101.20,429.80 L101.70,429.80 L102.20,429.80 L102.70,429.80 L103.20,429.80 L103.70,429.80 L104.20,429.80 L104.70,429.80 L105.20,429.80 L105.70,429.80 L106.20,429.80 L106.70,429.80 L107.20,429.80 L107.70,429.80 L108.20,429.80 L108.70,429.80 L109.20,429.80 L109.70,429.80 L110.20,429.80 L110.70,429.80 L111.20,429.80 L111.70,429.80 L112.20,429.80 L112.70,429.80 L113.20,429.80 L113.70,429.80 L114.20,429.80 L114.70,429.80 L115.20,429.80 L115.70,429.80 L116.20,429.80 L116.70,429.80 L117.20,429.80 L117.70,429.80 L118.20,429.80 L118.70,429.80 L119.20,429.80 L119.70,429.80 L120.20,429.80 L120.70,429.80 L121.20,429.80 L121.70,429.80 L122.20,429.80 L122.70,429.80 L123.20,429.80 L123.70,429.80 L124.20,429.80 L124.70,429.80 L125.20,429.80 L125.70,429.80 L126.20,429.80 L126.70,429.80 L127.20,429.80 L127.70,429.80 L128.20,429.80 L128.70,429.80 L129.20,429.80 L129.70,429.80 L130.20,429.80 L130.70,429.80 L131.20,429.80 L131.70,429.80 L132.20,429.80 L132.70,429.80 L133.20,429.80 L133.70,429.80 L134.20,429.80 L134.70,429.80 L135.20,429.80 L135.70,429.80 L136.20,429.80 L136.70,429.80 L137.20,429.80 L137.70,429.80 L138.20,429.80 L138.70,429.80 L139.20,429.80 L139.70,429.80 L140.20,429.80 L140.70,429.80 L141.20,429.80 L141.70,429.80 L142.20,429.80 L142.70,429.80 L143.20,429.80 L143.70,429.80 L144.20,429.80 L144.70,429.80 L145.20,429.80 L145.70,429.80 L146.20,429.80 L146.70,429.80 L147.20,429.80 L147.70,429.80 L148.20,429.80 L148.70,429.80 L149.20,429.80 L149.70,429.80 L150.20,429.80 L150.70,429.80 L151.20,429.80 L151.70,429.80 L152.20,429.80 L152.70,429.80 L153.20,429.80 L153.70,429.80 L154.20,429.80 L154.70,429.80 L155.20,429.80 L155.70,429.80 L156.20,429.80 L156.70,429.80 L157.20,429.80 L157.70,429.80 L158.20,429.80 L158.70,429.80 L159.20,429.80 L159.70,429.80 L160.20,429.80 L160.70,429.80 L161.20,429.80 L161.70,429.80 L162.20,429.80 L162.70,429.80 L163.20,429.80 L163.70,429.80 L164.20,429.80 L164.70,429.80 L165.20,429.80 L165.70,429.80 L166.20,429.80 L166.70,429.80 L167.20,429.80 L167.70,429.80 L168.20,429.80 L168.70,429.80 L169.20,429.80 L169.70,429.80 L170.20,429.80 L170.70,429.80 L171.20,429.80 L171.70,429.80 L172.20,429.80 L172.70,429.80 L173.20,429.80 L173.70,429.80 L174.20,429.80 L174.70,429.80 L175.20,429.80 L175.70,429.80 L176.20,429.80 L176.70,429.80 L177.20,429.80 L177.70,429.80 L178.20,429.80 L178.70,429.80 L179.20,429.80 L179.70,429.80 L180.20,429.80 L180.70,429.80 L181.20,429.80 L181.70,429.80 L182.20,429.80 L182.70,429.80 L183.20,429.80 L183.70,429.80 L184.20,429.80 L184.70,429.80 L185.20,429.80 L185.70,429.80 L186.20,429.80 L186.70,429.80 L187.20,429.80 L187.70,429.80 L188.20,429.80 L188.70,429.80 L189.20,429.80 L189.70,429.80 L190.20,429.80 L190.70,429.80 L191.20,429.80 L191.70,429.80 L192.20,429.80 L192.70,429.80 L193.20,429.80 L193.70,429.80 L194.20,429.80 L194.70,429.80 L195.20,429.80 L195.70,429.80 L196.20,429.80 L196.70,429.80 L197.20,429.80 L197.70,429.80 L198.20,429.80 L198.70,429.80 L199.20,429.80 L199.70,429.80 L200.20,429.80 L200.70,429.80 L201.20,429.80 L201.70,429.80 L202.20,429.80 L202.70,429.80 L203.20,429.80 L203.70,429.80 L204.20,429.80 L204.70,429.80 L205.20,429.80 L205.70,429.80 L206.20,429.80 L206.70,429.80 L207.20,429.80 L207.70,429.80 L208.20,429.80 L208.70,429.80 L209.20,429.80 L209.70,429.80 L210.20,429.80 L210.70,429.80 L211.20,429.80 L211.70,429.80 L212.20,429.80 L212.70,429.80 L213.20,429.80 L213.70,429.80 L214.20,429.80 L214.70,429.80 L215.20,429.80 L215.70,429.80 L216.20,429.80 L216.70,429.80 L217.20,429.80 L217.70,429.80 L218.20,429.80 L218.70,429.80 L219.20,429.80 L219.70,429.80 L220.20,429.80 L220.70,429.80 L221.20,429.80 L221.70,429.80 L222.20,429.80 L222.70,429.80 L223.20,429.80 L223.70,429.80 L224.20,429.80 L224.70,429.80 L225.20,429.80 L225.70,429.80 L226.20,429.80 L226.70,429.80 L227.20,429.80 L227.70,429.80 L228.20,429.80 L228.70,429.80 L229.20,429.80 L229.70,429.80 L230.20,429.79 L230.70,429.79 L231.20,429.78 L231.70,429.76 L232.20,429.74 L232.70,429.71 L233.20,429.67 L233.70,429.62 L234.20,429.55 L234.70,429.48 L235.20,429.40 L235.70,429.32 L236.20,429.24 L236.70,429.16 L237.20,429.10 L237.70,429.04 L238.20,429.00 L238.70,428.96 L239.20,428.94 L239.70,428.92 L240.20,428.91 L240.70,428.91 L241.20,428.90 L241.70,428.90 L242.20,428.90 L242.70,428.90 L243.20,428.90 L243.70,428.90 L244.20,428.90 L244.70,428.90 L245.20,428.90 L245.70,428.90 L246.20,428.90 L246.70,428.90 L247.20,428.90 L247.70,428.90 L248.20,428.90 L248.70,428.90 L249.20,428.90 L249.70,428.90 L250.20,428.90 L250.70,428.90 L251.20,428.90 L251.70,428.90 L252.20,428.90 L252.70,428.90 L253.20,428.90 L253.70,428.90 L254.20,428.90 L254.70,428.90 L255.20,428.90 L255.70,428.90 L256.20,428.90 L256.70,428.90 L257.20,428.90 L257.70,428.90 L258.20,428.90 L258.70,428.90 L259.20,428.90 L259.70,428.90 L260.20,428.90 L260.70,428.90 L261.20,428.90 L261.70,428.90 L262.20,428.90 L262.70,428.90 L263.20,428.90 L263.70,428.90 L264.20,428.90 L264.70,428.90 L265.20,428.90 L265.70,428.90 L266.20,428.90 L266.70,428.90 L267.20,428.90 L267.70,428.90 L268.20,428.90 L268.70,428.90 L269.20,428.90 L269.70,428.90 L270.20,428.90 L270.70,428.90 L271.20,428.90 L271.70,428.90 L272.20,428.90 L272.70,428.90 L273.20,428.90 L273.70,428.90 L274.20,428.90 L274.70,428.90 L275.20,428.89 L275.70,428.89 L276.20,428.89 L276.70,428.88 L277.20,428.87 L277.70,428.86 L278.20,428.84 L278.70,428.82 L279.20,428.79 L279.70,428.74 L280.20,428.68 L280.70,428.59 L281.20,428.47 L281.70,428.31 L282.20,428.10 L282.70,427.82 L283.20,427.46 L283.70,426.98 L284.20,426.37 L284.70,425.58 L285.20,424.59 L285.70,423.34 L286.20,421.79 L286.70,419.88 L287.20,417.55 L287.70,414.72 L288.20,411.34 L288.70,407.32 L289.20,402.59 L289.70,397.10 L290.20,390.78 L290.70,383.59 L291.20,375.49 L291.70,366.50 L292.20,356.62 L292.70,345.92 L293.20,334.50 L293.70,322.49 L294.20,310.07 L294.70,297.47 L295.20,284.95 L295.70,272.83 L296.20,261.45 L296.70,251.17 L297.20,242.40 L297.70,235.54 L298.20,231.08 L298.70,229.81 L299.20,232.51 L299.70,237.97 L300.20,245.63 L300.70,255.03 L301.20,265.77 L301.70,277.47 L302.20,289.76 L302.70,302.33 L303.20,314.86 L303.70,327.12 L304.20,338.89 L304.70,350.01 L305.20,360.37 L305.70,369.88 L306.20,378.49 L306.70,386.20 L307.20,393.01 L307.70,398.97 L308.20,404.13 L308.70,408.54 L309.20,412.27 L309.70,415.40 L310.20,418.00 L310.70,420.14 L311.20,421.88 L311.70,423.28 L312.20,424.40 L312.70,425.29 L313.20,425.98 L313.70,426.52 L314.20,426.93 L314.70,427.24 L315.20,427.47 L315.70,427.64 L316.20,427.76 L316.70,427.84 L317.20,427.90 L317.70,427.93 L318.20,427.95 L318.70,427.96 L319.20,427.96 L319.70,427.95 L320.20,427.93 L320.70,427.92 L321.20,427.90 L321.70,427.88 L322.20,427.86 L322.70,427.84 L323.20,427.82 L323.70,427.79 L324.20,427.77 L324.70,427.75 L325.20,427.72 L325.70,427.70 L326.20,427.68 L326.70,427.65 L327.20,427.63 L327.70,427.60 L328.20,427.57 L328.70,427.54 L329.20,427.51 L329.70,427.48 L330.20,427.44 L330.70,427.40 L331.20,427.36 L331.70,427.32 L332.20,427.27 L332.70,427.23 L333.20,427.18 L333.70,427.13 L334.20,427.08 L334.70,427.03 L335.20,426.98 L335.70,426.93 L336.20,426.88 L336.70,426.82 L337.20,426.77 L337.70,426.71 L338.20,426.65 L338.70,426.59 L339.20,426.52 L339.70,426.44 L340.20,426.35 L340.70,426.26 L341.20,426.17 L341.70,426.06 L342.20,425.95 L342.70,425.84 L343.20,425.73 L343.70,425.61 L344.20,425.49 L344.70,425.37 L345.20,425.25 L345.70,425.13 L346.20,425.01 L346.70,424.90 L347.20,424.78 L347.70,424.67 L348.20,424.56 L348.70,424.46 L349.20,424.36 L349.70,424.26 L350.20,424.18 L350.70,424.10 L351.20,424.03 L351.70,423.96 L352.20,423.90 L352.70,423.84 L353.20,423.79 L353.70,423.73 L354.20,423.68 L354.70,423.63 L355.20,423.58 L355.70,423.53 L356.20,423.48 L356.70,423.43 L357.20,423.39 L357.70,423.34 L358.20,423.30 L358.70,423.26 L359.20,423.23 L359.70,423.20 L360.20,423.17 L360.70,423.15 L361.20,423.13 L361.70,423.12 L362.20,423.11 L362.70,423.11 L363.20,423.10 L363.70,423.10 L364.20,423.10 L364.70,423.10 L365.20,423.10 L365.70,423.10 L366.20,423.10 L366.70,423.10 L367.20,423.11 L367.70,423.11 L368.20,423.12 L368.70,423.13 L369.20,423.15 L369.70,423.17 L370.20,423.19 L370.70,423.22 L371.20,423.25 L371.70,423.29 L372.20,423.33 L372.70,423.38 L373.20,423.42 L373.70,423.47 L374.20,423.52 L374.70,423.57 L375.20,423.62 L375.70,423.67 L376.20,423.72 L376.70,423.77 L377.20,423.82 L377.70,423.87 L378.20,423.92 L378.70,423.97 L379.20,424.02 L379.70,424.06 L380.20,424.11 L380.70,424.16 L381.20,424.20 L381.70,424.25 L382.20,424.30 L382.70,424.34 L383.20,424.39 L383.70,424.43 L384.20,424.48 L384.70,424.52 L385.20,424.57 L385.70,424.61 L386.20,424.66 L386.70,424.70 L387.20,424.75 L387.70,424.79 L388.20,424.84 L388.70,424.89 L389.20,424.93 L389.70,424.98 L390.20,425.03 L390.70,425.07 L391.20,425.12 L391.70,425.17 L392.20,425.22 L392.70,425.27 L393.20,425.32 L393.70,425.37 L394.20,425.42 L394.70,425.47 L395.20,425.52 L395.70,425.57 L396.20,425.62 L396.70,425.67 L397.20,425.72 L397.70,425.76 L398.20,425.81 L398.70,425.85 L399.20,425.90 L399.70,425.94 L400.20,425.98 L400.70,426.01 L401.20,426.04 L401.70,426.07 L402.20,426.10 L402.70,426.13 L403.20,426.16 L403.70,426.18 L404.20,426.21 L404.70,426.23 L405.20,426.26 L405.70,426.29 L406.20,426.31 L406.70,426.34 L407.20,426.37 L407.70,426.40 L408.20,426.43 L408.70,426.47 L409.20,426.51 L409.70,426.55 L410.20,426.60 L410.70,426.65 L411.20,426.71 L411.70,426.78 L412.20,426.84 L412.70,426.91 L413.20,426.98 L413.70,427.06 L414.20,427.13 L414.70,427.21 L415.20,427.28 L415.70,427.35 L416.20,427.43 L416.70,427.50 L417.20,427.58 L417.70,427.65 L418.20,427.72 L418.70,427.79 L419.20,427.86 L419.70,427.92 L420.20,427.99 L420.70,428.05 L421.20,428.10 L421.70,428.16 L422.20,428.21 L422.70,428.27 L423.20,428.32 L423.70,428.37 L424.20,428.42 L424.70,428.47 L425.20,428.52 L425.70,428.57 L426.20,428.62 L426.70,428.67 L427.20,428.71 L427.70,428.76 L428.20,428.80 L428.70,428.85 L429.20,428.88 L429.70,428.92 L430.20,428.95 L430.70,428.97 L431.20,429.00 L431.70,429.02 L432.20,429.03 L432.70,429.05 L433.20,429.06 L433.70,429.07 L434.20,429.08 L434.70,429.09 L435.20,429.10 L435.70,429.11 L436.20,429.12 L436.70,429.13 L437.20,429.14 L437.70,429.15 L438.20,429.16 L438.70,429.17 L439.20,429.18 L439.70,429.19 L440.20,429.20 L440.70,429.21 L441.20,429.22 L441.70,429.23 L442.20,429.24 L442.70,429.25 L443.20,429.26 L443.70,429.27 L444.20,429.27 L444.70,429.28 L445.20,429.29 L445.70,429.29 L446.20,429.29 L446.70,429.30 L447.20,429.30 L447.70,429.30 L448.20,429.30 L448.70,429.30 L449.20,429.30 L449.70,429.30 L450.20,429.30 L450.70,429.30 L451.20,429.30 L451.70,429.30 L452.20,429.30 L452.70,429.30 L453.20,429.30 L453.70,429.30 L454.20,429.30 L454.70,429.30 L455.20,429.30 L455.70,429.30 L456.20,429.30 L456.70,429.30 L457.20,429.30 L457.70,429.30 L458.20,429.30 L458.70,429.30 L459.20,429.30 L459.70,429.30 L460.20,429.30 L460.70,429.30 L461.20,429.30 L461.70,429.30 L462.20,429.30 L462.70,429.30 L463.20,429.30 L463.70,429.30 L464.20,429.30 L464.70,429.30 L465.20,429.30 L465.70,429.30 L466.20,429.30 L466.70,429.30 L467.20,429.30 L467.70,429.30 L468.20,429.30 L468.70,429.30 L469.20,429.30 L469.70,429.30 L470.20,429.30 L470.70,429.31 L471.20,429.31 L471.70,429.31 L472.20,429.31 L472.70,429.31 L473.20,429.31 L473.70,429.31 L474.20,429.31 L474.70,429.31 L475.20,429.31 L475.70,429.31 L476.20,429.31 L476.70,429.31 L477.20,429.31 L477.70,429.31 L478.20,429.31 L478.70,429.31 L479.20,429.31 L479.70,429.31 L480.20,429.31 L480.70,429.31 L481.20,429.31 L481.70,429.31 L482.20,429.31 L482.70,429.31 L483.20,429.31 L483.70,429.31 L484.20,429.31 L484.70,429.31 L485.20,429.31 L485.70,429.31 L486.20,429.31 L486.70,429.31 L487.20,429.31 L487.70,429.31 L488.20,429.31 L488.70,429.31 L489.20,429.31 L489.70,429.31 L490.20,429.31 L490.70,429.31 L491.20,429.31 L491.70,429.31 L492.20,429.31 L492.70,429.31 L493.20,429.31 L493.70,429.31 L494.20,429.31 L494.70,429.31 L495.20,429.31 L495.70,429.31 L496.20,429.31 L496.70,429.31 L497.20,429.31 L497.70,429.31 L498.20,429.31 L498.70,429.31 L499.20,429.31 L499.70,429.31 L500.20,429.31 L500.70,429.31 L501.20,429.31 L501.70,429.31 L502.20,429.31 L502.70,429.31 L503.20,429.31 L503.70,429.31 L504.20,429.31 L504.70,429.31 L505.20,429.31 L505.70,429.31 L506.20,429.31 L506.70,429.31 L507.20,429.31 L507.70,429.31 L508.20,429.31 L508.70,429.31 L509.20,429.31 L509.70,429.31 L510.20,429.31 L510.70,429.31 L511.20,429.31 L511.70,429.31 L512.20,429.31 L512.70,429.31 L513.20,429.31 L513.70,429.31 L514.20,429.31 L514.70,429.31 L515.20,429.31 L515.70,429.31 L516.20,429.31 L516.70,429.31 L517.20,429.31 L517.70,429.31 L518.20,429.31 L518.70,429.31 L519.20,429.31 L519.70,429.31 L520.20,429.31 L520.70,429.31 L521.20,429.32 L521.70,429.32 L522.20,429.32 L522.70,429.32 L523.20,429.32 L523.70,429.32 L524.20,429.32 L524.70,429.32 L525.20,429.32 L525.70,429.32 L526.20,429.32 L526.70,429.32 L527.20,429.32 L527.70,429.32 L528.20,429.32 L528.70,429.32 L529.20,429.32 L529.70,429.32 L530.20,429.32 L530.70,429.32 L531.20,429.32 L531.70,429.32 L532.20,429.32 L532.70,429.32 L533.20,429.32 L533.70,429.32 L534.20,429.32 L534.70,429.32 L535.20,429.32 L535.70,429.32 L536.20,429.32 L536.70,429.32 L537.20,429.32 L537.70,429.32 L538.20,429.32 L538.70,429.32 L539.20,429.32 L539.70,429.32 L540.20,429.32 L540.70,429.32 L541.20,429.32 L541.70,429.32 L542.20,429.32 L542.70,429.32 L543.20,429.32 L543.70,429.32 L544.20,429.32 L544.70,429.32 L545.20,429.32 L545.70,429.32 L546.20,429.32 L546.70,429.32 L547.20,429.32 L547.70,429.32 L548.20,429.32 L548.70,429.32 L549.20,429.32 L549.70,429.32 L550.20,429.32 L550.70,429.32 L551.20,429.32 L551.70,429.32 L552.20,429.32 L552.70,429.32 L553.20,429.32 L553.70,429.32 L554.20,429.32 L554.70,429.32 L555.20,429.32 L555.70,429.32 L556.20,429.32 L556.70,429.32 L557.20,429.32 L557.70,429.32 L558.20,429.32 L558.70,429.32 L559.20,429.32 L559.70,429.32 L560.20,429.32 L560.70,429.32 L561.20,429.32 L561.70,429.32 L562.20,429.32 L562.70,429.32 L563.20,429.32 L563.70,429.32 L564.20,429.32 L564.70,429.32 L565.20,429.32 L565.70,429.32 L566.20,429.32 L566.70,429.32 L567.20,429.32 L567.70,429.32 L568.20,429.32 L568.70,429.32 L569.20,429.32 L569.70,429.32 L570.20,429.32 L570.70,429.32 L571.20,429.32 L571.70,429.32 L572.20,429.33 L572.70,429.33 L573.20,429.33 L573.70,429.33 L574.20,429.33 L574.70,429.33 L575.20,429.33 L575.70,429.33 L576.20,429.33 L576.70,429.33 L577.20,429.33 L577.70,429.33 L578.20,429.33 L578.70,429.33 L579.20,429.33 L579.70,429.33 L580.20,429.33 L580.70,429.33 L581.20,429.33 L581.70,429.33 L582.20,429.33 L582.70,429.33 L583.20,429.33 L583.70,429.33 L584.20,429.33 L584.70,429.33 L585.20,429.33 L585.70,429.33 L586.20,429.33 L586.70,429.33 L587.20,429.33 L587.70,429.33 L588.20,429.33 L588.70,429.33 L589.20,429.33 L589.70,429.33 L590.20,429.33 L590.70,429.33 L591.20,429.33 L591.70,429.33 L592.20,429.33 L592.70,429.33 L593.20,429.33 L593.70,429.33 L594.20,429.33 L594.70,429.33 L595.20,429.33 L595.70,429.33 L596.20,429.33 L596.70,429.33 L597.20,429.33 L597.70,429.33 L598.20,429.33 L598.70,429.33 L599.20,429.33 L599.70,429.33 L600.20,429.33 L600.70,429.33 L601.20,429.33 L601.70,429.33 L602.20,429.33 L602.70,429.33 L603.20,429.33 L603.70,429.33 L604.20,429.33 L604.70,429.33 L605.20,429.33 L605.70,429.33 L606.20,429.33 L606.70,429.33 L607.20,429.33 L607.70,429.33 L608.20,429.33 L608.70,429.33 L609.20,429.33 L609.70,429.33 L610.20,429.33 L610.70,429.33 L611.20,429.33 L611.70,429.33 L612.20,429.33 L612.70,429.33 L613.20,429.33 L613.70,429.33 L614.20,429.33 L614.70,429.33 L615.20,429.33 L615.70,429.33 L616.20,429.33 L616.70,429.33 L617.20,429.33 L617.70,429.33 L618.20,429.33 L618.70,429.33 L619.20,429.33 L619.70,429.33 L620.20,429.33 L620.70,429.33 L621.20,429.33 L621.70,429.33 L622.20,429.33 L622.70,429.34 L623.20,429.34 L623.70,429.34 L624.20,429.34 L624.70,429.34 L625.20,429.34 L625.70,429.34 L626.20,429.34 L626.70,429.34 L627.20,429.34 L627.70,429.34 L628.20,429.34 L628.70,429.34 L629.20,429.34 L629.70,429.34 L630.20,429.34 L630.70,429.34 L631.20,429.34 L631.70,429.34 L632.20,429.34 L632.70,429.34 L633.20,429.34 L633.70,429.34 L634.20,429.34 L634.70,429.34 L635.20,429.34 L635.70,429.34 L636.20,429.34 L636.70,429.34 L637.20,429.34 L637.70,429.34 L638.20,429.34 L638.70,429.34 L639.20,429.34 L639.70,429.34 L640.20,429.34 L640.70,429.34 L641.20,429.34 L641.70,429.34 L642.20,429.34 L642.70,429.34 L643.20,429.34 L643.70,429.34 L644.20,429.34 L644.70,429.34 L645.20,429.34 L645.70,429.34 L646.20,429.34 L646.70,429.34 L647.20,429.34 L647.70,429.34 L648.20,429.34 L648.70,429.34 L649.20,429.34 L649.70,429.34 L650.20,429.34 L650.70,429.34 L651.20,429.34 L651.70,429.34 L652.20,429.34 L652.70,429.34 L653.20,429.34 L653.70,429.34 L654.20,429.34 L654.70,429.34 L655.20,429.34 L655.70,429.34 L656.20,429.34 L656.70,429.34 L657.20,429.34 L657.70,429.34 L658.20,429.34 L658.70,429.34 L659.20,429.34 L659.70,429.34 L660.20,429.34 L660.70,429.34 L661.20,429.34 L661.70,429.34 L662.20,429.34 L662.70,429.34 L663.20,429.34 L663.70,429.34 L664.20,429.34 L664.70,429.34 L665.20,429.34 L665.70,429.34 L666.20,429.34 L666.70,429.34 L667.20,429.34 L667.70,429.34 L668.20,429.34 L668.70,429.34 L669.20,429.34 L669.70,429.34 L670.20,429.34 L670.70,429.34 L671.20,429.34 L671.70,429.34 L672.20,429.34 L672.70,429.34 L673.20,429.35 L673.70,429.35 L674.20,429.35 L674.70,429.35 L675.20,429.35 L675.70,429.35 L676.20,429.35 L676.70,429.35 L677.20,429.35 L677.70,429.35 L678.20,429.35 L678.70,429.35 L679.20,429.35 L679.70,429.35 L680.20,429.35 L680.70,429.35 L681.20,429.35 L681.70,429.35 L682.20,429.35 L682.70,429.35 L683.20,429.35 L683.70,429.35 L684.20,429.35 L684.70,429.35 L685.20,429.35 L685.70,429.35 L686.20,429.35 L686.70,429.35 L687.20,429.35 L687.70,429.35 L688.20,429.35 L688.70,429.35 L689.20,429.35 L689.70,429.35 L690.20,429.35 L690.70,429.35 L691.20,429.35 L691.70,429.35 L692.20,429.35 L692.70,429.35 L693.20,429.35 L693.70,429.35 L694.20,429.35 L694.70,429.35 L695.20,429.35 L695.70,429.35 L696.20,429.35 L696.70,429.35 L697.20,429.35 L697.70,429.35 L698.20,429.35 L698.70,429.35 L699.20,429.35 L699.70,429.35 L700.20,429.35 L700.70,429.35 L701.20,429.35 L701.70,429.35 L702.20,429.35 L702.70,429.35 L703.20,429.35 L703.70,429.35 L704.20,429.35 L704.70,429.35 L705.20,429.35 L705.70,429.35 L706.20,429.35 L706.70,429.35 L707.20,429.35 L707.70,429.35 L708.20,429.35 L708.70,429.35 L709.20,429.35 L709.70,429.35 L710.20,429.35 L710.70,429.35 L711.20,429.35 L711.70,429.35 L712.20,429.35 L712.70,429.35 L713.20,429.35 L713.70,429.35 L714.20,429.35 L714.70,429.35 L715.20,429.35 L715.70,429.35 L716.20,429.35 L716.70,429.35 L717.20,429.35 L717.70,429.35 L718.20,429.35 L718.70,429.35 L719.20,429.35 L719.70,429.35 L720.20,429.35 L720.70,429.35 L721.20,429.35 L721.70,429.35 L722.20,429.35 L722.70,429.35 L723.20,429.35 L723.70,429.35 L724.20,429.36 L724.70,429.36 L725.20,429.36 L725.70,429.36 L726.20,429.36 L726.70,429.36 L727.20,429.36 L727.70,429.36 L728.20,429.36 L728.70,429.36 L729.20,429.36 L729.70,429.36 L730.20,429.36 L730.70,429.36 L731.20,429.36 L731.70,429.36 L732.20,429.36 L732.70,429.36 L733.20,429.36 L733.70,429.36 L734.20,429.36 L734.70,429.36 L735.20,429.36 L735.70,429.36 L736.20,429.36 L736.70,429.36 L737.20,429.36 L737.70,429.36 L738.20,429.36 L738.70,429.36 L739.20,429.36 L739.70,429.36 L740.20,429.36 L740.70,429.36 L741.20,429.36 L741.70,429.36 L742.20,429.36 L742.70,429.36 L743.20,429.36 L743.70,429.36 L744.20,429.36 L744.70,429.36 L745.20,429.36 L745.70,429.36 L746.20,429.36 L746.70,429.36 L747.20,429.36 L747.70,429.36 L748.20,429.36 L748.70,429.36 L749.20,429.36 L749.70,429.36 L750.20,429.36 L750.70,429.36 L751.20,429.36 L751.70,429.36 L752.20,429.36 L752.70,429.36 L753.20,429.36 L753.70,429.36 L754.20,429.36 L754.70,429.36 L755.20,429.36 L755.70,429.36 L756.20,429.36 L756.70,429.36 L757.20,429.36 L757.70,429.36 L758.20,429.36 L758.70,429.36 L759.20,429.36 L759.70,429.36 L760.20,429.36 L760.70,429.36 L761.20,429.36 L761.70,429.36 L762.20,429.36 L762.70,429.36 L763.20,429.36 L763.70,429.36 L764.20,429.36 L764.70,429.36 L765.20,429.36 L765.70,429.36 L766.20,429.36 L766.70,429.36 L767.20,429.36 L767.70,429.36 L768.20,429.36 L768.70,429.36 L769.20,429.36 L769.70,429.36 L770.20,429.36 L770.70,429.35 L771.20,429.35 L771.70,429.35 L772.20,429.34 L772.70,429.34 L773.20,429.33 L773.70,429.33 L774.20,429.32 L774.70,429.31 L775.20,429.30 L775.70,429.29 L776.20,429.27 L776.70,429.25 L777.20,429.23 L777.70,429.20 L778.20,429.16 L778.70,429.13 L779.20,429.08 L779.70,429.03 L780.20,428.97 L780.70,428.90 L781.20,428.81 L781.70,428.72 L782.20,428.61 L782.70,428.48 L783.20,428.33 L783.70,428.17 L784.20,427.98 L784.70,427.77 L785.20,427.52 L785.70,427.25 L786.20,426.95 L786.70,426.60 L787.20,426.22 L787.70,425.80 L788.20,425.33 L788.70,424.81 L789.20,424.24 L789.70,423.61 L790.20,422.93 L790.70,422.19 L791.20,421.39 L791.70,420.52 L792.20,419.59 L792.70,418.59 L793.20,417.53 L793.70,416.40 L794.20,415.21 L794.70,413.95 L795.20,412.64 L795.70,411.28 L796.20,409.87 L796.70,408.42 L797.20,406.93 L797.70,405.42 L798.20,403.89 L798.70,402.36 L799.20,400.83 L799.70,399.33 L800.20,397.86 L800.70,396.44 L801.20,395.08 L801.70,393.81 L802.20,392.63 L802.70,391.57 L803.20,390.65 L803.70,389.87 L804.20,389.27 L804.70,388.86 L805.20,388.70 L805.70,388.86 L806.20,389.27 L806.70,389.87 L807.20,390.65 L807.70,391.57 L808.20,392.64 L808.70,393.81 L809.20,395.09 L809.70,396.44 L810.20,397.86 L810.70,399.33 L811.20,400.83 L811.70,402.36 L812.20,403.89 L812.70,405.42 L813.20,406.93 L813.70,408.42 L814.20,409.87 L814.70,411.28 L815.20,412.65 L815.70,413.96 L816.20,415.21 L816.70,416.40 L817.20,417.53 L817.70,418.59 L818.20,419.59 L818.70,420.52 L819.20,421.39 L819.70,422.20 L820.20,422.94 L820.70,423.62 L821.20,424.25 L821.70,424.82 L822.20,425.34 L822.70,425.81 L823.20,426.23 L823.70,426.61 L824.20,426.95 L824.70,427.26 L825.20,427.53 L825.70,427.77 L826.20,427.99 L826.70,428.18 L827.20,428.34 L827.70,428.49 L828.20,428.62 L828.70,428.73 L829.20,428.82 L829.70,428.90 L830.20,428.98 L830.70,429.04 L831.20,429.09 L831.70,429.14 L832.20,429.18 L832.70,429.21 L833.20,429.24 L833.70,429.26 L834.20,429.28 L834.70,429.30 L835.20,429.31 L835.70,429.32 L836.20,429.33 L836.70,429.34 L837.20,429.35 L837.70,429.35 L838.20,429.36 L838.70,429.36 L839.20,429.36 L839.70,429.37 L840.20,429.37 L840.70,429.37 L841.20,429.37 L841.70,429.37 L842.20,429.37 L842.70,429.38 L843.20,429.38 L843.70,429.38 L844.20,429.38 L844.70,429.38 L845.20,429.38 L845.70,429.38 L846.20,429.38 L846.70,429.38 L847.20,429.38 L847.70,429.38 L848.20,429.38 L848.70,429.38 L849.20,429.38 L849.70,429.38 L850.20,429.38 L850.70,429.38 L851.20,429.38 L851.70,429.38 L852.20,429.38 L852.70,429.38 L853.20,429.38 L853.70,429.38 L854.20,429.38 L854.70,429.38 L855.20,429.38 L855.70,429.38 L856.20,429.38 L856.70,429.38 L857.20,429.38 L857.70,429.38 L858.20,429.38 L858.70,429.38 L859.20,429.38 L859.70,429.38 L860.20,429.38 L860.70,429.38 L861.20,429.38 L861.70,429.38 L862.20,429.38 L862.70,429.38 L863.20,429.38 L863.70,429.38 L864.20,429.38 L864.70,429.38 L865.20,429.38 L865.70,429.38 L866.20,429.38 L866.70,429.38 L867.20,429.38 L867.70,429.38 L868.20,429.38 L868.70,429.38 L869.20,429.38 L869.70,429.38 L870.20,429.38 L870.70,429.38 L871.20,429.38 L871.70,429.38 L872.20,429.38 L872.70,429.38 L873.20,429.38 L873.70,429.38 L874.20,429.38 L874.70,429.38 L875.20,429.38 L875.70,429.38 L876.20,429.39 L876.70,429.39 L877.20,429.39 L877.70,429.39 L878.20,429.39 L878.70,429.39 L879.20,429.39 L879.70,429.39 L880.20,429.39 L880.70,429.39 L881.20,429.39 L881.70,429.39 L882.20,429.39 L882.70,429.39 L883.20,429.39 L883.70,429.39 L884.20,429.39 L884.70,429.39 L885.20,429.39 L885.70,429.39 L886.20,429.39 L886.70,429.39 L887.20,429.39 L887.70,429.39 L888.20,429.39 L888.70,429.39 L889.20,429.39 L889.70,429.39 L890.20,429.39 L890.70,429.39 L891.20,429.39 L891.70,429.39 L892.20,429.39 L892.70,429.39 L893.20,429.39 L893.70,429.39 L894.20,429.39 L894.70,429.39 L895.20,429.39 L895.70,429.39 L896.20,429.39 L896.70,429.39 L897.20,429.39 L897.70,429.39 L898.20,429.39 L898.70,429.39 L899.20,429.39 L899.70,429.39 L900.20,429.39 L900.70,429.39 L901.20,429.39 L901.70,429.39 L902.20,429.39 L902.70,429.39 L903.20,429.39 L903.70,429.39 L904.20,429.39 L904.70,429.39 L905.20,429.39 L905.70,429.39 L906.20,429.39 L906.70,429.39 L907.20,429.39 L907.70,429.39 L908.20,429.39 L908.70,429.39 L909.20,429.39 L909.70,429.39 L910.20,429.39 L910.70,429.39 L911.20,429.39 L911.70,429.39 L912.20,429.39 L912.70,429.39 L913.20,429.39 L913.70,429.39 L914.20,429.39 L914.70,429.39 L915.20,429.39 L915.70,429.39 L916.20,429.39 L916.70,429.39 L917.20,429.39 L917.70,429.39 L918.20,429.39 L918.70,429.39 L919.20,429.39 L919.70,429.39 L920.20,429.39 L920.70,429.39 L921.20,429.39 L921.70,429.39 L922.20,429.39 L922.70,429.39 L923.20,429.39 L923.70,429.39 L924.20,429.39 L924.70,429.39 L925.20,429.39 L925.70,429.39 L926.20,429.39 L926.70,429.40 L927.20,429.40 L927.70,429.40 L928.20,429.40 L928.70,429.40 L929.20,429.40 L929.70,429.40 L930.20,429.40 L930.70,429.40 L931.20,429.40 L931.70,429.40 L932.20,429.40 L932.70,429.40 L933.20,429.40 L933.70,429.40 L934.20,429.40 L934.70,429.40 L935.20,429.40 L935.70,429.40 L936.20,429.40 L936.70,429.40 L937.20,429.40 L937.70,429.40 L938.20,429.40 L938.70,429.40 L939.20,429.40 L939.70,429.40 L940.20,429.40 L940.70,429.40 L941.20,429.40 L941.70,429.40 L942.20,429.40 L942.70,429.40 L943.20,429.40 L943.70,429.40 L944.20,429.40 L944.70,429.40 L945.20,429.40 L945.70,429.40 L946.20,429.40 L946.70,429.40 L947.20,429.40 L947.70,429.40 L948.20,429.40 L948.70,429.41 L949.20,429.42 L949.70,429.43 L950.20,429.44 L950.70,429.47 L951.20,429.50 L951.70,429.54 L952.20,429.59 L952.70,429.65 L953.20,429.71 L953.70,429.78 L954.20,429.84 L954.70,429.90 L955.20,429.95 L955.70,429.99 L956.20,430.02 L956.70,430.05 L957.20,430.07 L957.70,430.08 L958.20,430.09 L958.70,430.09 L959.20,430.10 L959.70,430.10 L960.20,430.10 L960.70,430.10 L961.20,430.10 L961.70,430.10 L962.20,430.10 L962.70,430.10 L963.20,430.10 L963.70,430.10 L964.20,430.10 L964.70,430.10 L965.20,430.10 L965.70,430.10 L966.20,430.10 L966.70,430.10 L967.20,430.10 L967.70,430.10 L968.20,430.10 L968.70,430.10 L969.20,430.10 L969.70,430.10 L970.20,430.10 L970.70,430.10 L971.20,430.10 L971.70,430.10 L972.20,430.10 L972.70,430.10 L973.20,430.10 L973.70,430.10 L974.20,430.10 L974.70,430.10 L975.20,430.10 L975.70,430.10 L976.20,430.10 L976.70,430.10 L977.20,430.10 L977.70,430.10 L978.20,430.10 L978.70,430.10 L979.20,430.10 L979.70,430.10 L980.20,430.10 L980.70,430.10 L981.20,430.10 L981.70,430.10 L982.20,430.10 L982.70,430.10 L983.20,430.10 L983.70,430.10 L984.20,430.10 L984.70,430.10 L985.20,430.10 L985.70,430.10 L986.20,430.10 L986.70,430.10 L987.20,430.10 L987.70,430.10 L988.20,430.10 L988.70,430.10" fill="none" stroke="#0000ff" stroke-width="5.2" stroke-linejoin="round"/><path d="M93.70,625.30 L94.20,625.30 L94.70,625.30 L95.20,625.30 L95.70,625.30 L96.20,625.30 L96.70,625.30 L97.20,625.30 L97.70,625.30 L98.20,625.30 L98.70,625.30 L99.20,625.30 L99.70,625.30 L100.20,625.30 L100.70,625.30 L101.20,625.30 L101.70,625.30 L102.20,625.30 L102.70,625.30 L103.20,625.30 L103.70,625.30 L104.20,625.30 L104.70,625.30 L105.20,625.30 L105.70,625.30 L106.20,625.30 L106.70,625.30 L107.20,625.30 L107.70,625.30 L108.20,625.30 L108.70,625.30 L109.20,625.30 L109.70,625.30 L110.20,625.30 L110.70,625.30 L111.20,625.30 L111.70,625.30 L112.20,625.30 L112.70,625.30 L113.20,625.30 L113.70,625.30 L114.20,625.30 L114.70,625.30 L115.20,625.30 L115.70,625.30 L116.20,625.30 L116.70,625.30 L117.20,625.30 L117.70,625.30 L118.20,625.30 L118.70,625.30 L119.20,625.30 L119.70,625.30 L120.20,625.30 L120.70,625.30 L121.20,625.30 L121.70,625.30 L122.20,625.30 L122.70,625.30 L123.20,625.30 L123.70,625.30 L124.20,625.30 L124.70,625.30 L125.20,625.30 L125.70,625.30 L126.20,625.30 L126.70,625.30 L127.20,625.30 L127.70,625.30 L128.20,625.30 L128.70,625.30 L129.20,625.30 L129.70,625.30 L130.20,625.30 L130.70,625.30 L131.20,625.30 L131.70,625.30 L132.20,625.30 L132.70,625.30 L133.20,625.30 L133.70,625.30 L134.20,625.30 L134.70,625.30 L135.20,625.30 L135.70,625.30 L136.20,625.30 L136.70,625.30 L137.20,625.30 L137.70,625.30 L138.20,625.30 L138.70,625.30 L139.20,625.30 L139.70,625.30 L140.20,625.30 L140.70,625.30 L141.20,625.30 L141.70,625.30 L142.20,625.30 L142.70,625.30 L143.20,625.30 L143.70,625.30 L144.20,625.30 L144.70,625.30 L145.20,625.30 L145.70,625.30 L146.20,625.30 L146.70,625.30 L147.20,625.30 L147.70,625.30 L148.20,625.30 L148.70,625.30 L149.20,625.30 L149.70,625.30 L150.20,625.30 L150.70,625.30 L151.20,625.30 L151.70,625.30 L152.20,625.30 L152.70,625.30 L153.20,625.30 L153.70,625.30 L154.20,625.30 L154.70,625.30 L155.20,625.30 L155.70,625.30 L156.20,625.30 L156.70,625.30 L157.20,625.30 L157.70,625.30 L158.20,625.30 L158.70,625.30 L159.20,625.30 L159.70,625.30 L160.20,625.30 L160.70,625.30 L161.20,625.30 L161.70,625.30 L162.20,625.30 L162.70,625.30 L163.20,625.30 L163.70,625.30 L164.20,625.30 L164.70,625.30 L165.20,625.30 L165.70,625.30 L166.20,625.30 L166.70,625.30 L167.20,625.30 L167.70,625.30 L168.20,625.30 L168.70,625.30 L169.20,625.30 L169.70,625.30 L170.20,625.30 L170.70,625.30 L171.20,625.30 L171.70,625.30 L172.20,625.30 L172.70,625.30 L173.20,625.30 L173.70,625.30 L174.20,625.30 L174.70,625.30 L175.20,625.30 L175.70,625.30 L176.20,625.30 L176.70,625.30 L177.20,625.30 L177.70,625.30 L178.20,625.30 L178.70,625.30 L179.20,625.30 L179.70,625.30 L180.20,625.30 L180.70,625.30 L181.20,625.30 L181.70,625.30 L182.20,625.30 L182.70,625.30 L183.20,625.30 L183.70,625.30 L184.20,625.30 L184.70,625.30 L185.20,625.30 L185.70,625.30 L186.20,625.30 L186.70,625.30 L187.20,625.30 L187.70,625.30 L188.20,625.30 L188.70,625.30 L189.20,625.30 L189.70,625.30 L190.20,625.30 L190.70,625.30 L191.20,625.30 L191.70,625.30 L192.20,625.30 L192.70,625.30 L193.20,625.30 L193.70,625.30 L194.20,625.30 L194.70,625.30 L195.20,625.30 L195.70,625.30 L196.20,625.30 L196.70,625.30 L197.20,625.30 L197.70,625.30 L198.20,625.30 L198.70,625.30 L199.20,625.30 L199.70,625.30 L200.20,625.30 L200.70,625.30 L201.20,625.30 L201.70,625.30 L202.20,625.30 L202.70,625.30 L203.20,625.30 L203.70,625.30 L204.20,625.30 L204.70,625.30 L205.20,625.30 L205.70,625.30 L206.20,625.30 L206.70,625.30 L207.20,625.30 L207.70,625.30 L208.20,625.30 L208.70,625.30 L209.20,625.30 L209.70,625.30 L210.20,625.30 L210.70,625.30 L211.20,625.30 L211.70,625.30 L212.20,625.30 L212.70,625.30 L213.20,625.30 L213.70,625.30 L214.20,625.30 L214.70,625.30 L215.20,625.30 L215.70,625.30 L216.20,625.30 L216.70,625.30 L217.20,625.30 L217.70,625.30 L218.20,625.30 L218.70,625.30 L219.20,625.30 L219.70,625.30 L220.20,625.30 L220.70,625.30 L221.20,625.29 L221.70,625.28 L222.20,625.27 L222.70,625.25 L223.20,625.22 L223.70,625.17 L224.20,625.11 L224.70,625.03 L225.20,624.94 L225.70,624.84 L226.20,624.72 L226.70,624.60 L227.20,624.49 L227.70,624.38 L228.20,624.28 L228.70,624.20 L229.20,624.14 L229.70,624.09 L230.20,624.06 L230.70,624.03 L231.20,624.02 L231.70,624.01 L232.20,624.00 L232.70,624.00 L233.20,624.00 L233.70,624.00 L234.20,624.00 L234.70,624.00 L235.20,624.00 L235.70,624.00 L236.20,624.00 L236.70,624.00 L237.20,624.00 L237.70,624.00 L238.20,624.00 L238.70,624.00 L239.20,624.00 L239.70,624.00 L240.20,624.00 L240.70,624.00 L241.20,624.00 L241.70,624.00 L242.20,624.00 L242.70,624.00 L243.20,624.00 L243.70,624.00 L244.20,624.00 L244.70,624.00 L245.20,624.00 L245.70,624.00 L246.20,624.00 L246.70,624.00 L247.20,624.00 L247.70,624.00 L248.20,624.00 L248.70,624.00 L249.20,624.00 L249.70,624.00 L250.20,624.00 L250.70,624.00 L251.20,624.00 L251.70,624.00 L252.20,624.00 L252.70,624.00 L253.20,624.00 L253.70,624.00 L254.20,624.00 L254.70,624.00 L255.20,624.00 L255.70,624.00 L256.20,624.00 L256.70,624.00 L257.20,624.00 L257.70,624.00 L258.20,624.00 L258.70,624.00 L259.20,624.00 L259.70,624.00 L260.20,624.00 L260.70,624.00 L261.20,624.00 L261.70,624.00 L262.20,624.00 L262.70,624.00 L263.20,624.00 L263.70,624.00 L264.20,624.00 L264.70,624.00 L265.20,624.00 L265.70,624.00 L266.20,624.00 L266.70,624.00 L267.20,624.00 L267.70,624.00 L268.20,624.00 L268.70,624.00 L269.20,624.00 L269.70,624.00 L270.20,624.00 L270.70,624.00 L271.20,624.00 L271.70,624.00 L272.20,624.00 L272.70,624.00 L273.20,624.00 L273.70,624.00 L274.20,624.00 L274.70,623.99 L275.20,623.99 L275.70,623.99 L276.20,623.98 L276.70,623.97 L277.20,623.96 L277.70,623.94 L278.20,623.92 L278.70,623.88 L279.20,623.84 L279.70,623.77 L280.20,623.69 L280.70,623.58 L281.20,623.43 L281.70,623.24 L282.20,622.98 L282.70,622.65 L283.20,622.23 L283.70,621.68 L284.20,621.00 L284.70,620.13 L285.20,619.06 L285.70,617.73 L286.20,616.11 L286.70,614.14 L287.20,611.77 L287.70,608.95 L288.20,605.62 L288.70,601.72 L289.20,597.21 L289.70,592.02 L290.20,586.14 L290.70,579.52 L291.20,572.17 L291.70,564.09 L292.20,555.33 L292.70,545.94 L293.20,536.02 L293.70,525.69 L294.20,515.13 L294.70,504.52 L295.20,494.08 L295.70,484.09 L296.20,474.80 L296.70,466.53 L297.20,459.58 L297.70,454.30 L298.20,451.08 L298.70,450.72 L299.20,453.43 L299.70,458.29 L300.20,464.90 L300.70,472.89 L301.20,481.96 L301.70,491.81 L302.20,502.14 L302.70,512.70 L303.20,523.25 L303.70,533.60 L304.20,543.57 L304.70,553.04 L305.20,561.90 L305.70,570.08 L306.20,577.55 L306.70,584.27 L307.20,590.27 L307.70,595.55 L308.20,600.16 L308.70,604.14 L309.20,607.55 L309.70,610.43 L310.20,612.85 L310.70,614.87 L311.20,616.52 L311.70,617.87 L312.20,618.97 L312.70,619.84 L313.20,620.54 L313.70,621.09 L314.20,621.51 L314.70,621.84 L315.20,622.09 L315.70,622.28 L316.20,622.41 L316.70,622.52 L317.20,622.59 L317.70,622.64 L318.20,622.67 L318.70,622.69 L319.20,622.70 L319.70,622.70 L320.20,622.69 L320.70,622.69 L321.20,622.68 L321.70,622.67 L322.20,622.65 L322.70,622.64 L323.20,622.62 L323.70,622.61 L324.20,622.59 L324.70,622.58 L325.20,622.56 L325.70,622.54 L326.20,622.53 L326.70,622.51 L327.20,622.49 L327.70,622.47 L328.20,622.45 L328.70,622.43 L329.20,622.40 L329.70,622.37 L330.20,622.34 L330.70,622.31 L331.20,622.27 L331.70,622.23 L332.20,622.19 L332.70,622.15 L333.20,622.11 L333.70,622.07 L334.20,622.02 L334.70,621.98 L335.20,621.93 L335.70,621.89 L336.20,621.84 L336.70,621.79 L337.20,621.75 L337.70,621.70 L338.20,621.65 L338.70,621.60 L339.20,621.54 L339.70,621.49 L340.20,621.43 L340.70,621.37 L341.20,621.30 L341.70,621.23 L342.20,621.16 L342.70,621.09 L343.20,621.02 L343.70,620.94 L344.20,620.87 L344.70,620.79 L345.20,620.72 L345.70,620.65 L346.20,620.57 L346.70,620.50 L347.20,620.43 L347.70,620.35 L348.20,620.29 L348.70,620.22 L349.20,620.16 L349.70,620.10 L350.20,620.04 L350.70,619.99 L351.20,619.94 L351.70,619.90 L352.20,619.86 L352.70,619.82 L353.20,619.78 L353.70,619.74 L354.20,619.71 L354.70,619.67 L355.20,619.64 L355.70,619.60 L356.20,619.57 L356.70,619.53 L357.20,619.50 L357.70,619.47 L358.20,619.44 L358.70,619.41 L359.20,619.39 L359.70,619.37 L360.20,619.35 L360.70,619.33 L361.20,619.32 L361.70,619.32 L362.20,619.31 L362.70,619.31 L363.20,619.30 L363.70,619.30 L364.20,619.30 L364.70,619.30 L365.20,619.30 L365.70,619.30 L366.20,619.30 L366.70,619.30 L367.20,619.30 L367.70,619.30 L368.20,619.31 L368.70,619.31 L369.20,619.32 L369.70,619.33 L370.20,619.34 L370.70,619.35 L371.20,619.36 L371.70,619.38 L372.20,619.39 L372.70,619.41 L373.20,619.43 L373.70,619.45 L374.20,619.47 L374.70,619.49 L375.20,619.51 L375.70,619.53 L376.20,619.55 L376.70,619.57 L377.20,619.59 L377.70,619.62 L378.20,619.64 L378.70,619.67 L379.20,619.70 L379.70,619.74 L380.20,619.78 L380.70,619.82 L381.20,619.87 L381.70,619.92 L382.20,619.97 L382.70,620.03 L383.20,620.09 L383.70,620.15 L384.20,620.20 L384.70,620.26 L385.20,620.32 L385.70,620.38 L386.20,620.44 L386.70,620.50 L387.20,620.56 L387.70,620.61 L388.20,620.67 L388.70,620.72 L389.20,620.76 L389.70,620.81 L390.20,620.84 L390.70,620.88 L391.20,620.91 L391.70,620.93 L392.20,620.95 L392.70,620.97 L393.20,620.99 L393.70,621.01 L394.20,621.03 L394.70,621.04 L395.20,621.06 L395.70,621.07 L396.20,621.09 L396.70,621.10 L397.20,621.12 L397.70,621.13 L398.20,621.15 L398.70,621.16 L399.20,621.18 L399.70,621.19 L400.20,621.21 L400.70,621.22 L401.20,621.24 L401.70,621.25 L402.20,621.27 L402.70,621.28 L403.20,621.30 L403.70,621.31 L404.20,621.33 L404.70,621.34 L405.20,621.36 L405.70,621.37 L406.20,621.39 L406.70,621.41 L407.20,621.42 L407.70,621.44 L408.20,621.47 L408.70,621.49 L409.20,621.53 L409.70,621.56 L410.20,621.60 L410.70,621.65 L411.20,621.70 L411.70,621.76 L412.20,621.82 L412.70,621.89 L413.20,621.95 L413.70,622.02 L414.20,622.09 L414.70,622.16 L415.20,622.23 L415.70,622.30 L416.20,622.37 L416.70,622.44 L417.20,622.51 L417.70,622.57 L418.20,622.64 L418.70,622.71 L419.20,622.77 L419.70,622.84 L420.20,622.90 L420.70,622.96 L421.20,623.02 L421.70,623.08 L422.20,623.14 L422.70,623.19 L423.20,623.25 L423.70,623.31 L424.20,623.36 L424.70,623.42 L425.20,623.47 L425.70,623.53 L426.20,623.58 L426.70,623.63 L427.20,623.69 L427.70,623.74 L428.20,623.79 L428.70,623.83 L429.20,623.87 L429.70,623.91 L430.20,623.95 L430.70,623.98 L431.20,624.00 L431.70,624.03 L432.20,624.05 L432.70,624.07 L433.20,624.08 L433.70,624.10 L434.20,624.11 L434.70,624.12 L435.20,624.14 L435.70,624.15 L436.20,624.17 L436.70,624.18 L437.20,624.19 L437.70,624.21 L438.20,624.22 L438.70,624.23 L439.20,624.25 L439.70,624.26 L440.20,624.27 L440.70,624.29 L441.20,624.30 L441.70,624.31 L442.20,624.32 L442.70,624.34 L443.20,624.35 L443.70,624.36 L444.20,624.37 L444.70,624.38 L445.20,624.38 L445.70,624.39 L446.20,624.40 L446.70,624.40 L447.20,624.40 L447.70,624.41 L448.20,624.41 L448.70,624.41 L449.20,624.41 L449.70,624.41 L450.20,624.41 L450.70,624.41 L451.20,624.42 L451.70,624.42 L452.20,624.42 L452.70,624.42 L453.20,624.42 L453.70,624.42 L454.20,624.42 L454.70,624.43 L455.20,624.43 L455.70,624.43 L456.20,624.43 L456.70,624.43 L457.20,624.43 L457.70,624.43 L458.20,624.43 L458.70,624.44 L459.20,624.44 L459.70,624.44 L460.20,624.44 L460.70,624.44 L461.20,624.44 L461.70,624.44 L462.20,624.44 L462.70,624.45 L463.20,624.45 L463.70,624.45 L464.20,624.45 L464.70,624.45 L465.20,624.45 L465.70,624.45 L466.20,624.45 L466.70,624.46 L467.20,624.46 L467.70,624.46 L468.20,624.46 L468.70,624.46 L469.20,624.46 L469.70,624.46 L470.20,624.47 L470.70,624.47 L471.20,624.47 L471.70,624.47 L472.20,624.47 L472.70,624.47 L473.20,624.47 L473.70,624.47 L474.20,624.48 L474.70,624.48 L475.20,624.48 L475.70,624.48 L476.20,624.48 L476.70,624.48 L477.20,624.48 L477.70,624.48 L478.20,624.49 L478.70,624.49 L479.20,624.49 L479.70,624.49 L480.20,624.49 L480.70,624.49 L481.20,624.49 L481.70,624.49 L482.20,624.50 L482.70,624.50 L483.20,624.50 L483.70,624.50 L484.20,624.50 L484.70,624.50 L485.20,624.50 L485.70,624.51 L486.20,624.51 L486.70,624.51 L487.20,624.51 L487.70,624.51 L488.20,624.51 L488.70,624.51 L489.20,624.51 L489.70,624.52 L490.20,624.52 L490.70,624.52 L491.20,624.52 L491.70,624.52 L492.20,624.52 L492.70,624.52 L493.20,624.52 L493.70,624.53 L494.20,624.53 L494.70,624.53 L495.20,624.53 L495.70,624.53 L496.20,624.53 L496.70,624.53 L497.20,624.53 L497.70,624.54 L498.20,624.54 L498.70,624.54 L499.20,624.54 L499.70,624.54 L500.20,624.54 L500.70,624.54 L501.20,624.55 L501.70,624.55 L502.20,624.55 L502.70,624.55 L503.20,624.55 L503.70,624.55 L504.20,624.55 L504.70,624.55 L505.20,624.56 L505.70,624.56 L506.20,624.56 L506.70,624.56 L507.20,624.56 L507.70,624.56 L508.20,624.56 L508.70,624.56 L509.20,624.57 L509.70,624.57 L510.20,624.57 L510.70,624.57 L511.20,624.57 L511.70,624.57 L512.20,624.57 L512.70,624.57 L513.20,624.58 L513.70,624.58 L514.20,624.58 L514.70,624.58 L515.20,624.58 L515.70,624.58 L516.20,624.58 L516.70,624.59 L517.20,624.59 L517.70,624.59 L518.20,624.59 L518.70,624.59 L519.20,624.59 L519.70,624.59 L520.20,624.59 L520.70,624.60 L521.20,624.60 L521.70,624.60 L522.20,624.60 L522.70,624.60 L523.20,624.60 L523.70,624.60 L524.20,624.60 L524.70,624.61 L525.20,624.61 L525.70,624.61 L526.20,624.61 L526.70,624.61 L527.20,624.61 L527.70,624.61 L528.20,624.61 L528.70,624.62 L529.20,624.62 L529.70,624.62 L530.20,624.62 L530.70,624.62 L531.20,624.62 L531.70,624.62 L532.20,624.63 L532.70,624.63 L533.20,624.63 L533.70,624.63 L534.20,624.63 L534.70,624.63 L535.20,624.63 L535.70,624.63 L536.20,624.64 L536.70,624.64 L537.20,624.64 L537.70,624.64 L538.20,624.64 L538.70,624.64 L539.20,624.64 L539.70,624.64 L540.20,624.65 L540.70,624.65 L541.20,624.65 L541.70,624.65 L542.20,624.65 L542.70,624.65 L543.20,624.65 L543.70,624.65 L544.20,624.66 L544.70,624.66 L545.20,624.66 L545.70,624.66 L546.20,624.66 L546.70,624.66 L547.20,624.66 L547.70,624.67 L548.20,624.67 L548.70,624.67 L549.20,624.67 L549.70,624.67 L550.20,624.67 L550.70,624.67 L551.20,624.67 L551.70,624.68 L552.20,624.68 L552.70,624.68 L553.20,624.68 L553.70,624.68 L554.20,624.68 L554.70,624.68 L555.20,624.68 L555.70,624.69 L556.20,624.69 L556.70,624.69 L557.20,624.69 L557.70,624.69 L558.20,624.69 L558.70,624.69 L559.20,624.69 L559.70,624.70 L560.20,624.70 L560.70,624.70 L561.20,624.70 L561.70,624.70 L562.20,624.70 L562.70,624.70 L563.20,624.71 L563.70,624.71 L564.20,624.71 L564.70,624.71 L565.20,624.71 L565.70,624.71 L566.20,624.71 L566.70,624.71 L567.20,624.72 L567.70,624.72 L568.20,624.72 L568.70,624.72 L569.20,624.72 L569.70,624.72 L570.20,624.72 L570.70,624.72 L571.20,624.73 L571.70,624.73 L572.20,624.73 L572.70,624.73 L573.20,624.73 L573.70,624.73 L574.20,624.73 L574.70,624.73 L575.20,624.74 L575.70,624.74 L576.20,624.74 L576.70,624.74 L577.20,624.74 L577.70,624.74 L578.20,624.74 L578.70,624.75 L579.20,624.75 L579.70,624.75 L580.20,624.75 L580.70,624.75 L581.20,624.75 L581.70,624.75 L582.20,624.75 L582.70,624.76 L583.20,624.76 L583.70,624.76 L584.20,624.76 L584.70,624.76 L585.20,624.76 L585.70,624.76 L586.20,624.76 L586.70,624.77 L587.20,624.77 L587.70,624.77 L588.20,624.77 L588.70,624.77 L589.20,624.77 L589.70,624.77 L590.20,624.77 L590.70,624.78 L591.20,624.78 L591.70,624.78 L592.20,624.78 L592.70,624.78 L593.20,624.78 L593.70,624.78 L594.20,624.79 L594.70,624.79 L595.20,624.79 L595.70,624.79 L596.20,624.79 L596.70,624.79 L597.20,624.79 L597.70,624.79 L598.20,624.79 L598.70,624.80 L599.20,624.80 L599.70,624.80 L600.20,624.80 L600.70,624.80 L601.20,624.80 L601.70,624.80 L602.20,624.80 L602.70,624.80 L603.20,624.80 L603.70,624.80 L604.20,624.80 L604.70,624.80 L605.20,624.80 L605.70,624.80 L606.20,624.80 L606.70,624.80 L607.20,624.80 L607.70,624.80 L608.20,624.80 L608.70,624.80 L609.20,624.80 L609.70,624.80 L610.20,624.80 L610.70,624.80 L611.20,624.80 L611.70,624.80 L612.20,624.80 L612.70,624.80 L613.20,624.80 L613.70,624.80 L614.20,624.80 L614.70,624.80 L615.20,624.80 L615.70,624.80 L616.20,624.80 L616.70,624.80 L617.20,624.80 L617.70,624.80 L618.20,624.80 L618.70,624.81 L619.20,624.81 L619.70,624.81 L620.20,624.81 L620.70,624.81 L621.20,624.81 L621.70,624.81 L622.20,624.81 L622.70,624.81 L623.20,624.81 L623.70,624.81 L624.20,624.81 L624.70,624.81 L625.20,624.81 L625.70,624.81 L626.20,624.81 L626.70,624.81 L627.20,624.81 L627.70,624.81 L628.20,624.81 L628.70,624.81 L629.20,624.81 L629.70,624.81 L630.20,624.81 L630.70,624.81 L631.20,624.81 L631.70,624.81 L632.20,624.81 L632.70,624.81 L633.20,624.81 L633.70,624.81 L634.20,624.81 L634.70,624.81 L635.20,624.81 L635.70,624.81 L636.20,624.81 L636.70,624.81 L637.20,624.81 L637.70,624.81 L638.20,624.81 L638.70,624.81 L639.20,624.81 L639.70,624.81 L640.20,624.81 L640.70,624.81 L641.20,624.81 L641.70,624.81 L642.20,624.81 L642.70,624.81 L643.20,624.81 L643.70,624.81 L644.20,624.81 L644.70,624.81 L645.20,624.81 L645.70,624.81 L646.20,624.81 L646.70,624.81 L647.20,624.81 L647.70,624.81 L648.20,624.81 L648.70,624.81 L649.20,624.81 L649.70,624.81 L650.20,624.81 L650.70,624.81 L651.20,624.81 L651.70,624.81 L652.20,624.81 L652.70,624.81 L653.20,624.81 L653.70,624.81 L654.20,624.81 L654.70,624.81 L655.20,624.81 L655.70,624.81 L656.20,624.82 L656.70,624.82 L657.20,624.82 L657.70,624.82 L658.20,624.82 L658.70,624.82 L659.20,624.82 L659.70,624.82 L660.20,624.82 L660.70,624.82 L661.20,624.82 L661.70,624.82 L662.20,624.82 L662.70,624.82 L663.20,624.82 L663.70,624.82 L664.20,624.82 L664.70,624.82 L665.20,624.82 L665.70,624.82 L666.20,624.82 L666.70,624.82 L667.20,624.82 L667.70,624.82 L668.20,624.82 L668.70,624.82 L669.20,624.82 L669.70,624.82 L670.20,624.82 L670.70,624.82 L671.20,624.82 L671.70,624.82 L672.20,624.82 L672.70,624.82 L673.20,624.82 L673.70,624.82 L674.20,624.82 L674.70,624.82 L675.20,624.82 L675.70,624.82 L676.20,624.82 L676.70,624.82 L677.20,624.82 L677.70,624.82 L678.20,624.82 L678.70,624.82 L679.20,624.82 L679.70,624.82 L680.20,624.82 L680.70,624.82 L681.20,624.82 L681.70,624.82 L682.20,624.82 L682.70,624.82 L683.20,624.82 L683.70,624.82 L684.20,624.82 L684.70,624.82 L685.20,624.82 L685.70,624.82 L686.20,624.82 L686.70,624.82 L687.20,624.82 L687.70,624.82 L688.20,624.82 L688.70,624.82 L689.20,624.82 L689.70,624.82 L690.20,624.82 L690.70,624.82 L691.20,624.82 L691.70,624.82 L692.20,624.82 L692.70,624.82 L693.20,624.82 L693.70,624.83 L694.20,624.83 L694.70,624.83 L695.20,624.83 L695.70,624.83 L696.20,624.83 L696.70,624.83 L697.20,624.83 L697.70,624.83 L698.20,624.83 L698.70,624.83 L699.20,624.83 L699.70,624.83 L700.20,624.83 L700.70,624.83 L701.20,624.83 L701.70,624.83 L702.20,624.83 L702.70,624.83 L703.20,624.83 L703.70,624.83 L704.20,624.83 L704.70,624.83 L705.20,624.83 L705.70,624.83 L706.20,624.83 L706.70,624.83 L707.20,624.83 L707.70,624.83 L708.20,624.83 L708.70,624.83 L709.20,624.83 L709.70,624.83 L710.20,624.83 L710.70,624.83 L711.20,624.83 L711.70,624.83 L712.20,624.83 L712.70,624.83 L713.20,624.83 L713.70,624.83 L714.20,624.83 L714.70,624.83 L715.20,624.83 L715.70,624.83 L716.20,624.83 L716.70,624.83 L717.20,624.83 L717.70,624.83 L718.20,624.83 L718.70,624.83 L719.20,624.83 L719.70,624.83 L720.20,624.83 L720.70,624.83 L721.20,624.83 L721.70,624.83 L722.20,624.83 L722.70,624.83 L723.20,624.83 L723.70,624.83 L724.20,624.83 L724.70,624.83 L725.20,624.83 L725.70,624.83 L726.20,624.83 L726.70,624.83 L727.20,624.83 L727.70,624.83 L728.20,624.83 L728.70,624.83 L729.20,624.83 L729.70,624.83 L730.20,624.83 L730.70,624.84 L731.20,624.84 L731.70,624.84 L732.20,624.84 L732.70,624.84 L733.20,624.84 L733.70,624.84 L734.20,624.84 L734.70,624.84 L735.20,624.84 L735.70,624.84 L736.20,624.84 L736.70,624.84 L737.20,624.84 L737.70,624.84 L738.20,624.84 L738.70,624.84 L739.20,624.84 L739.70,624.84 L740.20,624.84 L740.70,624.84 L741.20,624.84 L741.70,624.84 L742.20,624.84 L742.70,624.84 L743.20,624.84 L743.70,624.84 L744.20,624.84 L744.70,624.84 L745.20,624.84 L745.70,624.84 L746.20,624.84 L746.70,624.84 L747.20,624.84 L747.70,624.84 L748.20,624.84 L748.70,624.84 L749.20,624.84 L749.70,624.84 L750.20,624.84 L750.70,624.84 L751.20,624.84 L751.70,624.84 L752.20,624.84 L752.70,624.84 L753.20,624.84 L753.70,624.84 L754.20,624.84 L754.70,624.84 L755.20,624.84 L755.70,624.84 L756.20,624.84 L756.70,624.84 L757.20,624.84 L757.70,624.84 L758.20,624.84 L758.70,624.84 L759.20,624.84 L759.70,624.84 L760.20,624.84 L760.70,624.84 L761.20,624.84 L761.70,624.84 L762.20,624.84 L762.70,624.84 L763.20,624.84 L763.70,624.84 L764.20,624.84 L764.70,624.84 L765.20,624.84 L765.70,624.84 L766.20,624.84 L766.70,624.84 L767.20,624.84 L767.70,624.84 L768.20,624.84 L768.70,624.84 L769.20,624.84 L769.70,624.84 L770.20,624.84 L770.70,624.84 L771.20,624.84 L771.70,624.84 L772.20,624.84 L772.70,624.84 L773.20,624.84 L773.70,624.83 L774.20,624.83 L774.70,624.83 L775.20,624.82 L775.70,624.82 L776.20,624.81 L776.70,624.80 L777.20,624.79 L777.70,624.78 L778.20,624.76 L778.70,624.74 L779.20,624.72 L779.70,624.69 L780.20,624.65 L780.70,624.61 L781.20,624.57 L781.70,624.51 L782.20,624.44 L782.70,624.36 L783.20,624.27 L783.70,624.16 L784.20,624.04 L784.70,623.89 L785.20,623.73 L785.70,623.53 L786.20,623.31 L786.70,623.06 L787.20,622.78 L787.70,622.46 L788.20,622.09 L788.70,621.69 L789.20,621.23 L789.70,620.72 L790.20,620.16 L790.70,619.54 L791.20,618.86 L791.70,618.11 L792.20,617.30 L792.70,616.42 L793.20,615.47 L793.70,614.45 L794.20,613.36 L794.70,612.21 L795.20,610.99 L795.70,609.71 L796.20,608.38 L796.70,606.99 L797.20,605.57 L797.70,604.11 L798.20,602.64 L798.70,601.15 L799.20,599.67 L799.70,598.21 L800.20,596.78 L800.70,595.40 L801.20,594.10 L801.70,592.88 L802.20,591.77 L802.70,590.79 L803.20,589.96 L803.70,589.30 L804.20,588.84 L804.70,588.61 L805.20,588.71 L805.70,589.09 L806.20,589.67 L806.70,590.44 L807.20,591.36 L807.70,592.42 L808.20,593.60 L808.70,594.87 L809.20,596.22 L809.70,597.63 L810.20,599.08 L810.70,600.56 L811.20,602.05 L811.70,603.53 L812.20,604.99 L812.70,606.43 L813.20,607.83 L813.70,609.19 L814.20,610.49 L814.70,611.73 L815.20,612.91 L815.70,614.03 L816.20,615.07 L816.70,616.05 L817.20,616.96 L817.70,617.80 L818.20,618.57 L818.70,619.28 L819.20,619.93 L819.70,620.51 L820.20,621.04 L820.70,621.52 L821.20,621.94 L821.70,622.33 L822.20,622.66 L822.70,622.96 L823.20,623.23 L823.70,623.46 L824.20,623.66 L824.70,623.84 L825.20,623.99 L825.70,624.13 L826.20,624.24 L826.70,624.34 L827.20,624.42 L827.70,624.50 L828.20,624.56 L828.70,624.61 L829.20,624.65 L829.70,624.69 L830.20,624.72 L830.70,624.75 L831.20,624.77 L831.70,624.78 L832.20,624.80 L832.70,624.81 L833.20,624.82 L833.70,624.83 L834.20,624.84 L834.70,624.84 L835.20,624.85 L835.70,624.85 L836.20,624.85 L836.70,624.85 L837.20,624.86 L837.70,624.86 L838.20,624.86 L838.70,624.86 L839.20,624.86 L839.70,624.86 L840.20,624.86 L840.70,624.86 L841.20,624.86 L841.70,624.86 L842.20,624.86 L842.70,624.86 L843.20,624.86 L843.70,624.87 L844.20,624.87 L844.70,624.87 L845.20,624.87 L845.70,624.87 L846.20,624.87 L846.70,624.87 L847.20,624.87 L847.70,624.87 L848.20,624.87 L848.70,624.87 L849.20,624.87 L849.70,624.87 L850.20,624.87 L850.70,624.87 L851.20,624.87 L851.70,624.87 L852.20,624.87 L852.70,624.87 L853.20,624.87 L853.70,624.87 L854.20,624.87 L854.70,624.87 L855.20,624.87 L855.70,624.87 L856.20,624.87 L856.70,624.87 L857.20,624.87 L857.70,624.87 L858.20,624.87 L858.70,624.87 L859.20,624.87 L859.70,624.87 L860.20,624.87 L860.70,624.87 L861.20,624.87 L861.70,624.87 L862.20,624.87 L862.70,624.87 L863.20,624.87 L863.70,624.87 L864.20,624.87 L864.70,624.87 L865.20,624.87 L865.70,624.87 L866.20,624.87 L866.70,624.87 L867.20,624.87 L867.70,624.87 L868.20,624.87 L868.70,624.87 L869.20,624.87 L869.70,624.87 L870.20,624.87 L870.70,624.87 L871.20,624.87 L871.70,624.87 L872.20,624.87 L872.70,624.87 L873.20,624.87 L873.70,624.87 L874.20,624.87 L874.70,624.87 L875.20,624.87 L875.70,624.87 L876.20,624.87 L876.70,624.87 L877.20,624.87 L877.70,624.87 L878.20,624.87 L878.70,624.87 L879.20,624.87 L879.70,624.87 L880.20,624.88 L880.70,624.88 L881.20,624.88 L881.70,624.88 L882.20,624.88 L882.70,624.88 L883.20,624.88 L883.70,624.88 L884.20,624.88 L884.70,624.88 L885.20,624.88 L885.70,624.88 L886.20,624.88 L886.70,624.88 L887.20,624.88 L887.70,624.88 L888.20,624.88 L888.70,624.88 L889.20,624.88 L889.70,624.88 L890.20,624.88 L890.70,624.88 L891.20,624.88 L891.70,624.88 L892.20,624.88 L892.70,624.88 L893.20,624.88 L893.70,624.88 L894.20,624.88 L894.70,624.88 L895.20,624.88 L895.70,624.88 L896.20,624.88 L896.70,624.88 L897.20,624.88 L897.70,624.88 L898.20,624.88 L898.70,624.88 L899.20,624.88 L899.70,624.88 L900.20,624.88 L900.70,624.88 L901.20,624.88 L901.70,624.88 L902.20,624.88 L902.70,624.88 L903.20,624.88 L903.70,624.88 L904.20,624.88 L904.70,624.88 L905.20,624.88 L905.70,624.88 L906.20,624.88 L906.70,624.88 L907.20,624.88 L907.70,624.88 L908.20,624.88 L908.70,624.88 L909.20,624.88 L909.70,624.88 L910.20,624.88 L910.70,624.88 L911.20,624.88 L911.70,624.88 L912.20,624.88 L912.70,624.88 L913.20,624.88 L913.70,624.88 L914.20,624.88 L914.70,624.88 L915.20,624.88 L915.70,624.88 L916.20,624.88 L916.70,624.88 L917.20,624.89 L917.70,624.89 L918.20,624.89 L918.70,624.89 L919.20,624.89 L919.70,624.89 L920.20,624.89 L920.70,624.89 L921.20,624.89 L921.70,624.89 L922.20,624.89 L922.70,624.89 L923.20,624.89 L923.70,624.89 L924.20,624.89 L924.70,624.89 L925.20,624.89 L925.70,624.89 L926.20,624.89 L926.70,624.89 L927.20,624.89 L927.70,624.89 L928.20,624.89 L928.70,624.89 L929.20,624.89 L929.70,624.89 L930.20,624.89 L930.70,624.89 L931.20,624.89 L931.70,624.89 L932.20,624.89 L932.70,624.89 L933.20,624.89 L933.70,624.89 L934.20,624.89 L934.70,624.89 L935.20,624.89 L935.70,624.89 L936.20,624.89 L936.70,624.89 L937.20,624.89 L937.70,624.89 L938.20,624.89 L938.70,624.89 L939.20,624.89 L939.70,624.89 L940.20,624.89 L940.70,624.89 L941.20,624.89 L941.70,624.89 L942.20,624.89 L942.70,624.89 L943.20,624.89 L943.70,624.89 L944.20,624.89 L944.70,624.89 L945.20,624.89 L945.70,624.89 L946.20,624.89 L946.70,624.89 L947.20,624.89 L947.70,624.89 L948.20,624.89 L948.70,624.89 L949.20,624.89 L949.70,624.89 L950.20,624.89 L950.70,624.89 L951.20,624.89 L951.70,624.89 L952.20,624.89 L952.70,624.89 L953.20,624.89 L953.70,624.89 L954.20,624.89 L954.70,624.90 L955.20,624.90 L955.70,624.90 L956.20,624.90 L956.70,624.90 L957.20,624.90 L957.70,624.90 L958.20,624.90 L958.70,624.90 L959.20,624.90 L959.70,624.90 L960.20,624.90 L960.70,624.90 L961.20,624.90 L961.70,624.90 L962.20,624.90 L962.70,624.90 L963.20,624.90 L963.70,624.90 L964.20,624.90 L964.70,624.90 L965.20,624.90 L965.70,624.90 L966.20,624.90 L966.70,624.90 L967.20,624.90 L967.70,624.90 L968.20,624.90 L968.70,624.90 L969.20,624.90 L969.70,624.91 L970.20,624.91 L970.70,624.92 L971.20,624.94 L971.70,624.96 L972.20,624.99 L972.70,625.02 L973.20,625.07 L973.70,625.11 L974.20,625.17 L974.70,625.22 L975.20,625.28 L975.70,625.32 L976.20,625.37 L976.70,625.41 L977.20,625.44 L977.70,625.46 L978.20,625.47 L978.70,625.48 L979.20,625.49 L979.70,625.50 L980.20,625.50 L980.70,625.50 L981.20,625.50 L981.70,625.50 L982.20,625.50 L982.70,625.50 L983.20,625.50 L983.70,625.50 L984.20,625.50 L984.70,625.50 L985.20,625.50 L985.70,625.50 L986.20,625.50 L986.70,625.50 L987.20,625.50 L987.70,625.50 L988.20,625.50 L988.70,625.50" fill="none" stroke="#ff0000" stroke-width="5.2" stroke-linejoin="round"/><path d="M93.70,746.00 L94.20,746.00 L94.70,746.00 L95.20,746.00 L95.70,745.99 L96.20,745.99 L96.70,745.99 L97.20,745.99 L97.70,745.99 L98.20,745.99 L98.70,745.99 L99.20,745.99 L99.70,745.98 L100.20,745.98 L100.70,745.98 L101.20,745.98 L101.70,745.98 L102.20,745.98 L102.70,745.98 L103.20,745.98 L103.70,745.97 L104.20,745.97 L104.70,745.97 L105.20,745.97 L105.70,745.97 L106.20,745.97 L106.70,745.97 L107.20,745.97 L107.70,745.96 L108.20,745.96 L108.70,745.96 L109.20,745.96 L109.70,745.96 L110.20,745.96 L110.70,745.96 L111.20,745.96 L111.70,745.95 L112.20,745.95 L112.70,745.95 L113.20,745.95 L113.70,745.95 L114.20,745.95 L114.70,745.95 L115.20,745.94 L115.70,745.94 L116.20,745.94 L116.70,745.94 L117.20,745.94 L117.70,745.94 L118.20,745.94 L118.70,745.94 L119.20,745.93 L119.70,745.93 L120.20,745.93 L120.70,745.93 L121.20,745.93 L121.70,745.93 L122.20,745.93 L122.70,745.93 L123.20,745.92 L123.70,745.92 L124.20,745.92 L124.70,745.92 L125.20,745.92 L125.70,745.92 L126.20,745.92 L126.70,745.92 L127.20,745.91 L127.70,745.91 L128.20,745.91 L128.70,745.91 L129.20,745.91 L129.70,745.91 L130.20,745.91 L130.70,745.91 L131.20,745.90 L131.70,745.90 L132.20,745.90 L132.70,745.90 L133.20,745.90 L133.70,745.90 L134.20,745.90 L134.70,745.90 L135.20,745.89 L135.70,745.89 L136.20,745.89 L136.70,745.89 L137.20,745.89 L137.70,745.89 L138.20,745.89 L138.70,745.88 L139.20,745.88 L139.70,745.88 L140.20,745.88 L140.70,745.88 L141.20,745.88 L141.70,745.88 L142.20,745.88 L142.70,745.87 L143.20,745.87 L143.70,745.87 L144.20,745.87 L144.70,745.87 L145.20,745.87 L145.70,745.87 L146.20,745.87 L146.70,745.86 L147.20,745.86 L147.70,745.86 L148.20,745.86 L148.70,745.86 L149.20,745.86 L149.70,745.86 L150.20,745.86 L150.70,745.85 L151.20,745.85 L151.70,745.85 L152.20,745.85 L152.70,745.85 L153.20,745.85 L153.70,745.85 L154.20,745.85 L154.70,745.84 L155.20,745.84 L155.70,745.84 L156.20,745.84 L156.70,745.84 L157.20,745.84 L157.70,745.84 L158.20,745.83 L158.70,745.83 L159.20,745.83 L159.70,745.83 L160.20,745.83 L160.70,745.83 L161.20,745.83 L161.70,745.83 L162.20,745.82 L162.70,745.82 L163.20,745.82 L163.70,745.82 L164.20,745.82 L164.70,745.82 L165.20,745.82 L165.70,745.82 L166.20,745.81 L166.70,745.81 L167.20,745.81 L167.70,745.81 L168.20,745.81 L168.70,745.81 L169.20,745.81 L169.70,745.81 L170.20,745.80 L170.70,745.80 L171.20,745.80 L171.70,745.80 L172.20,745.80 L172.70,745.80 L173.20,745.80 L173.70,745.80 L174.20,745.79 L174.70,745.79 L175.20,745.79 L175.70,745.79 L176.20,745.79 L176.70,745.79 L177.20,745.79 L177.70,745.79 L178.20,745.78 L178.70,745.78 L179.20,745.78 L179.70,745.78 L180.20,745.78 L180.70,745.78 L181.20,745.78 L181.70,745.77 L182.20,745.77 L182.70,745.77 L183.20,745.77 L183.70,745.77 L184.20,745.77 L184.70,745.77 L185.20,745.77 L185.70,745.76 L186.20,745.76 L186.70,745.76 L187.20,745.76 L187.70,745.76 L188.20,745.76 L188.70,745.76 L189.20,745.76 L189.70,745.75 L190.20,745.75 L190.70,745.75 L191.20,745.75 L191.70,745.75 L192.20,745.75 L192.70,745.75 L193.20,745.75 L193.70,745.74 L194.20,745.74 L194.70,745.74 L195.20,745.74 L195.70,745.74 L196.20,745.74 L196.70,745.74 L197.20,745.74 L197.70,745.73 L198.20,745.73 L198.70,745.73 L199.20,745.73 L199.70,745.73 L200.20,745.73 L200.70,745.73 L201.20,745.72 L201.70,745.72 L202.20,745.72 L202.70,745.72 L203.20,745.72 L203.70,745.72 L204.20,745.72 L204.70,745.72 L205.20,745.71 L205.70,745.71 L206.20,745.71 L206.70,745.71 L207.20,745.71 L207.70,745.71 L208.20,745.71 L208.70,745.71 L209.20,745.70 L209.70,745.70 L210.20,745.70 L210.70,745.70 L211.20,745.70 L211.70,745.70 L212.20,745.70 L212.70,745.70 L213.20,745.69 L213.70,745.69 L214.20,745.69 L214.70,745.69 L215.20,745.69 L215.70,745.69 L216.20,745.69 L216.70,745.69 L217.20,745.68 L217.70,745.68 L218.20,745.68 L218.70,745.68 L219.20,745.68 L219.70,745.68 L220.20,745.68 L220.70,745.67 L221.20,745.67 L221.70,745.67 L222.20,745.67 L222.70,745.67 L223.20,745.67 L223.70,745.67 L224.20,745.67 L224.70,745.66 L225.20,745.66 L225.70,745.66 L226.20,745.66 L226.70,745.66 L227.20,745.66 L227.70,745.66 L228.20,745.66 L228.70,745.65 L229.20,745.65 L229.70,745.65 L230.20,745.65 L230.70,745.65 L231.20,745.65 L231.70,745.65 L232.20,745.65 L232.70,745.64 L233.20,745.64 L233.70,745.64 L234.20,745.64 L234.70,745.64 L235.20,745.64 L235.70,745.64 L236.20,745.64 L236.70,745.63 L237.20,745.63 L237.70,745.63 L238.20,745.63 L238.70,745.63 L239.20,745.63 L239.70,745.63 L240.20,745.62 L240.70,745.62 L241.20,745.62 L241.70,745.62 L242.20,745.62 L242.70,745.62 L243.20,745.61 L243.70,745.61 L244.20,745.61 L244.70,745.60 L245.20,745.60 L245.70,745.59 L246.20,745.58 L246.70,745.57 L247.20,745.55 L247.70,745.53 L248.20,745.50 L248.70,745.46 L249.20,745.40 L249.70,745.33 L250.20,745.23 L250.70,745.10 L251.20,744.94 L251.70,744.73 L252.20,744.47 L252.70,744.14 L253.20,743.73 L253.70,743.22 L254.20,742.59 L254.70,741.81 L255.20,740.87 L255.70,739.73 L256.20,738.37 L256.70,736.75 L257.20,734.84 L257.70,732.62 L258.20,730.05 L258.70,727.11 L259.20,723.77 L259.70,720.02 L260.20,715.86 L260.70,711.30 L261.20,706.34 L261.70,701.04 L262.20,695.43 L262.70,689.59 L263.20,683.60 L263.70,677.58 L264.20,671.64 L264.70,665.93 L265.20,660.59 L265.70,655.79 L266.20,651.71 L266.70,648.53 L267.20,646.45 L267.70,645.85 L268.20,647.07 L268.70,649.56 L269.20,653.08 L269.70,657.42 L270.20,662.40 L270.70,667.85 L271.20,673.62 L271.70,679.55 L272.20,685.52 L272.70,691.40 L273.20,697.11 L273.70,702.55 L274.20,707.66 L274.70,712.41 L275.20,716.76 L275.70,720.70 L276.20,724.22 L276.70,727.35 L277.20,730.08 L277.70,732.46 L278.20,734.49 L278.70,736.23 L279.20,737.68 L279.70,738.90 L280.20,739.90 L280.70,740.72 L281.20,741.38 L281.70,741.91 L282.20,742.32 L282.70,742.64 L283.20,742.89 L283.70,743.07 L284.20,743.20 L284.70,743.29 L285.20,743.35 L285.70,743.38 L286.20,743.40 L286.70,743.39 L287.20,743.37 L287.70,743.35 L288.20,743.31 L288.70,743.27 L289.20,743.23 L289.70,743.18 L290.20,743.13 L290.70,743.08 L291.20,743.03 L291.70,742.98 L292.20,742.93 L292.70,742.88 L293.20,742.82 L293.70,742.77 L294.20,742.72 L294.70,742.66 L295.20,742.61 L295.70,742.56 L296.20,742.50 L296.70,742.45 L297.20,742.40 L297.70,742.34 L298.20,742.29 L298.70,742.23 L299.20,742.17 L299.70,742.11 L300.20,742.05 L300.70,741.99 L301.20,741.92 L301.70,741.85 L302.20,741.79 L302.70,741.72 L303.20,741.65 L303.70,741.58 L304.20,741.51 L304.70,741.44 L305.20,741.37 L305.70,741.30 L306.20,741.23 L306.70,741.16 L307.20,741.09 L307.70,741.02 L308.20,740.95 L308.70,740.88 L309.20,740.81 L309.70,740.74 L310.20,740.67 L310.70,740.60 L311.20,740.53 L311.70,740.46 L312.20,740.40 L312.70,740.33 L313.20,740.27 L313.70,740.20 L314.20,740.14 L314.70,740.09 L315.20,740.03 L315.70,739.98 L316.20,739.93 L316.70,739.89 L317.20,739.85 L317.70,739.81 L318.20,739.77 L318.70,739.73 L319.20,739.69 L319.70,739.66 L320.20,739.62 L320.70,739.58 L321.20,739.55 L321.70,739.51 L322.20,739.47 L322.70,739.44 L323.20,739.40 L323.70,739.36 L324.20,739.33 L324.70,739.29 L325.20,739.25 L325.70,739.22 L326.20,739.18 L326.70,739.15 L327.20,739.11 L327.70,739.08 L328.20,739.05 L328.70,739.02 L329.20,739.00 L329.70,738.98 L330.20,738.97 L330.70,738.96 L331.20,738.96 L331.70,738.95 L332.20,738.96 L332.70,738.96 L333.20,738.97 L333.70,738.98 L334.20,738.99 L334.70,738.99 L335.20,739.00 L335.70,739.01 L336.20,739.02 L336.70,739.03 L337.20,739.04 L337.70,739.05 L338.20,739.06 L338.70,739.07 L339.20,739.08 L339.70,739.09 L340.20,739.10 L340.70,739.11 L341.20,739.13 L341.70,739.14 L342.20,739.15 L342.70,739.17 L343.20,739.18 L343.70,739.20 L344.20,739.23 L344.70,739.26 L345.20,739.29 L345.70,739.33 L346.20,739.38 L346.70,739.43 L347.20,739.48 L347.70,739.53 L348.20,739.59 L348.70,739.65 L349.20,739.71 L349.70,739.76 L350.20,739.82 L350.70,739.88 L351.20,739.94 L351.70,740.00 L352.20,740.06 L352.70,740.12 L353.20,740.18 L353.70,740.24 L354.20,740.30 L354.70,740.36 L355.20,740.42 L355.70,740.48 L356.20,740.54 L356.70,740.60 L357.20,740.66 L357.70,740.72 L358.20,740.78 L358.70,740.84 L359.20,740.89 L359.70,740.95 L360.20,741.01 L360.70,741.06 L361.20,741.11 L361.70,741.17 L362.20,741.22 L362.70,741.27 L363.20,741.32 L363.70,741.37 L364.20,741.42 L364.70,741.47 L365.20,741.52 L365.70,741.57 L366.20,741.62 L366.70,741.67 L367.20,741.72 L367.70,741.77 L368.20,741.82 L368.70,741.87 L369.20,741.92 L369.70,741.97 L370.20,742.02 L370.70,742.07 L371.20,742.12 L371.70,742.17 L372.20,742.22 L372.70,742.27 L373.20,742.32 L373.70,742.37 L374.20,742.42 L374.70,742.47 L375.20,742.52 L375.70,742.57 L376.20,742.62 L376.70,742.67 L377.20,742.72 L377.70,742.76 L378.20,742.81 L378.70,742.85 L379.20,742.90 L379.70,742.94 L380.20,742.98 L380.70,743.01 L381.20,743.04 L381.70,743.07 L382.20,743.10 L382.70,743.13 L383.20,743.16 L383.70,743.18 L384.20,743.21 L384.70,743.23 L385.20,743.26 L385.70,743.28 L386.20,743.31 L386.70,743.34 L387.20,743.36 L387.70,743.38 L388.20,743.41 L388.70,743.44 L389.20,743.46 L389.70,743.49 L390.20,743.51 L390.70,743.54 L391.20,743.56 L391.70,743.59 L392.20,743.61 L392.70,743.64 L393.20,743.66 L393.70,743.69 L394.20,743.71 L394.70,743.73 L395.20,743.76 L395.70,743.78 L396.20,743.81 L396.70,743.83 L397.20,743.86 L397.70,743.88 L398.20,743.91 L398.70,743.93 L399.20,743.95 L399.70,743.97 L400.20,743.99 L400.70,744.01 L401.20,744.02 L401.70,744.04 L402.20,744.06 L402.70,744.07 L403.20,744.08 L403.70,744.10 L404.20,744.11 L404.70,744.13 L405.20,744.14 L405.70,744.15 L406.20,744.17 L406.70,744.18 L407.20,744.19 L407.70,744.21 L408.20,744.22 L408.70,744.23 L409.20,744.25 L409.70,744.26 L410.20,744.27 L410.70,744.29 L411.20,744.30 L411.70,744.31 L412.20,744.32 L412.70,744.34 L413.20,744.35 L413.70,744.36 L414.20,744.37 L414.70,744.38 L415.20,744.38 L415.70,744.39 L416.20,744.39 L416.70,744.40 L417.20,744.40 L417.70,744.40 L418.20,744.40 L418.70,744.40 L419.20,744.41 L419.70,744.41 L420.20,744.41 L420.70,744.41 L421.20,744.41 L421.70,744.41 L422.20,744.41 L422.70,744.41 L423.20,744.41 L423.70,744.41 L424.20,744.41 L424.70,744.41 L425.20,744.41 L425.70,744.42 L426.20,744.42 L426.70,744.42 L427.20,744.42 L427.70,744.42 L428.20,744.42 L428.70,744.42 L429.20,744.42 L429.70,744.42 L430.20,744.42 L430.70,744.42 L431.20,744.42 L431.70,744.42 L432.20,744.42 L432.70,744.43 L433.20,744.43 L433.70,744.43 L434.20,744.43 L434.70,744.43 L435.20,744.43 L435.70,744.43 L436.20,744.43 L436.70,744.43 L437.20,744.43 L437.70,744.43 L438.20,744.43 L438.70,744.43 L439.20,744.44 L439.70,744.44 L440.20,744.44 L440.70,744.44 L441.20,744.44 L441.70,744.44 L442.20,744.44 L442.70,744.44 L443.20,744.44 L443.70,744.44 L444.20,744.44 L444.70,744.44 L445.20,744.44 L445.70,744.44 L446.20,744.45 L446.70,744.45 L447.20,744.45 L447.70,744.45 L448.20,744.45 L448.70,744.45 L449.20,744.45 L449.70,744.45 L450.20,744.45 L450.70,744.45 L451.20,744.45 L451.70,744.45 L452.20,744.45 L452.70,744.45 L453.20,744.46 L453.70,744.46 L454.20,744.46 L454.70,744.46 L455.20,744.46 L455.70,744.46 L456.20,744.46 L456.70,744.46 L457.20,744.46 L457.70,744.46 L458.20,744.46 L458.70,744.46 L459.20,744.46 L459.70,744.46 L460.20,744.47 L460.70,744.47 L461.20,744.47 L461.70,744.47 L462.20,744.47 L462.70,744.47 L463.20,744.47 L463.70,744.47 L464.20,744.47 L464.70,744.47 L465.20,744.47 L465.70,744.47 L466.20,744.47 L466.70,744.47 L467.20,744.48 L467.70,744.48 L468.20,744.48 L468.70,744.48 L469.20,744.48 L469.70,744.48 L470.20,744.48 L470.70,744.48 L471.20,744.48 L471.70,744.48 L472.20,744.48 L472.70,744.48 L473.20,744.48 L473.70,744.49 L474.20,744.49 L474.70,744.49 L475.20,744.49 L475.70,744.49 L476.20,744.49 L476.70,744.49 L477.20,744.49 L477.70,744.49 L478.20,744.49 L478.70,744.49 L479.20,744.49 L479.70,744.49 L480.20,744.49 L480.70,744.50 L481.20,744.50 L481.70,744.50 L482.20,744.50 L482.70,744.50 L483.20,744.50 L483.70,744.50 L484.20,744.50 L484.70,744.50 L485.20,744.50 L485.70,744.50 L486.20,744.50 L486.70,744.50 L487.20,744.50 L487.70,744.51 L488.20,744.51 L488.70,744.51 L489.20,744.51 L489.70,744.51 L490.20,744.51 L490.70,744.51 L491.20,744.51 L491.70,744.51 L492.20,744.51 L492.70,744.51 L493.20,744.51 L493.70,744.51 L494.20,744.51 L494.70,744.52 L495.20,744.52 L495.70,744.52 L496.20,744.52 L496.70,744.52 L497.20,744.52 L497.70,744.52 L498.20,744.52 L498.70,744.52 L499.20,744.52 L499.70,744.52 L500.20,744.52 L500.70,744.52 L501.20,744.52 L501.70,744.53 L502.20,744.53 L502.70,744.53 L503.20,744.53 L503.70,744.53 L504.20,744.53 L504.70,744.53 L505.20,744.53 L505.70,744.53 L506.20,744.53 L506.70,744.53 L507.20,744.53 L507.70,744.53 L508.20,744.54 L508.70,744.54 L509.20,744.54 L509.70,744.54 L510.20,744.54 L510.70,744.54 L511.20,744.54 L511.70,744.54 L512.20,744.54 L512.70,744.54 L513.20,744.54 L513.70,744.54 L514.20,744.54 L514.70,744.54 L515.20,744.55 L515.70,744.55 L516.20,744.55 L516.70,744.55 L517.20,744.55 L517.70,744.55 L518.20,744.55 L518.70,744.55 L519.20,744.55 L519.70,744.55 L520.20,744.55 L520.70,744.55 L521.20,744.55 L521.70,744.55 L522.20,744.56 L522.70,744.56 L523.20,744.56 L523.70,744.56 L524.20,744.56 L524.70,744.56 L525.20,744.56 L525.70,744.56 L526.20,744.56 L526.70,744.56 L527.20,744.56 L527.70,744.56 L528.20,744.56 L528.70,744.56 L529.20,744.57 L529.70,744.57 L530.20,744.57 L530.70,744.57 L531.20,744.57 L531.70,744.57 L532.20,744.57 L532.70,744.57 L533.20,744.57 L533.70,744.57 L534.20,744.57 L534.70,744.57 L535.20,744.57 L535.70,744.57 L536.20,744.58 L536.70,744.58 L537.20,744.58 L537.70,744.58 L538.20,744.58 L538.70,744.58 L539.20,744.58 L539.70,744.58 L540.20,744.58 L540.70,744.58 L541.20,744.58 L541.70,744.58 L542.20,744.58 L542.70,744.59 L543.20,744.59 L543.70,744.59 L544.20,744.59 L544.70,744.59 L545.20,744.59 L545.70,744.59 L546.20,744.59 L546.70,744.59 L547.20,744.59 L547.70,744.59 L548.20,744.59 L548.70,744.60 L549.20,744.60 L549.70,744.61 L550.20,744.63 L550.70,744.65 L551.20,744.69 L551.70,744.73 L552.20,744.79 L552.70,744.87 L553.20,744.95 L553.70,745.04 L554.20,745.14 L554.70,745.23 L555.20,745.32 L555.70,745.39 L556.20,745.46 L556.70,745.50 L557.20,745.54 L557.70,745.57 L558.20,745.58 L558.70,745.59 L559.20,745.60 L559.70,745.60 L560.20,745.60 L560.70,745.61 L561.20,745.61 L561.70,745.61 L562.20,745.61 L562.70,745.61 L563.20,745.61 L563.70,745.61 L564.20,745.61 L564.70,745.61 L565.20,745.61 L565.70,745.61 L566.20,745.61 L566.70,745.61 L567.20,745.61 L567.70,745.61 L568.20,745.61 L568.70,745.61 L569.20,745.61 L569.70,745.61 L570.20,745.61 L570.70,745.61 L571.20,745.61 L571.70,745.62 L572.20,745.62 L572.70,745.62 L573.20,745.62 L573.70,745.62 L574.20,745.62 L574.70,745.62 L575.20,745.62 L575.70,745.62 L576.20,745.62 L576.70,745.62 L577.20,745.62 L577.70,745.62 L578.20,745.62 L578.70,745.62 L579.20,745.62 L579.70,745.62 L580.20,745.62 L580.70,745.62 L581.20,745.62 L581.70,745.62 L582.20,745.63 L582.70,745.63 L583.20,745.63 L583.70,745.63 L584.20,745.63 L584.70,745.63 L585.20,745.63 L585.70,745.63 L586.20,745.63 L586.70,745.63 L587.20,745.63 L587.70,745.63 L588.20,745.63 L588.70,745.63 L589.20,745.63 L589.70,745.63 L590.20,745.63 L590.70,745.63 L591.20,745.63 L591.70,745.63 L592.20,745.63 L592.70,745.63 L593.20,745.64 L593.70,745.64 L594.20,745.64 L594.70,745.64 L595.20,745.64 L595.70,745.64 L596.20,745.64 L596.70,745.64 L597.20,745.64 L597.70,745.64 L598.20,745.64 L598.70,745.64 L599.20,745.64 L599.70,745.64 L600.20,745.64 L600.70,745.64 L601.20,745.64 L601.70,745.64 L602.20,745.64 L602.70,745.64 L603.20,745.64 L603.70,745.64 L604.20,745.65 L604.70,745.65 L605.20,745.65 L605.70,745.65 L606.20,745.65 L606.70,745.65 L607.20,745.65 L607.70,745.65 L608.20,745.65 L608.70,745.65 L609.20,745.65 L609.70,745.65 L610.20,745.65 L610.70,745.65 L611.20,745.65 L611.70,745.65 L612.20,745.65 L612.70,745.65 L613.20,745.65 L613.70,745.65 L614.20,745.65 L614.70,745.66 L615.20,745.66 L615.70,745.66 L616.20,745.66 L616.70,745.66 L617.20,745.66 L617.70,745.66 L618.20,745.66 L618.70,745.66 L619.20,745.66 L619.70,745.66 L620.20,745.66 L620.70,745.66 L621.20,745.66 L621.70,745.66 L622.20,745.66 L622.70,745.66 L623.20,745.66 L623.70,745.66 L624.20,745.66 L624.70,745.66 L625.20,745.66 L625.70,745.67 L626.20,745.67 L626.70,745.67 L627.20,745.67 L627.70,745.67 L628.20,745.67 L628.70,745.67 L629.20,745.67 L629.70,745.67 L630.20,745.67 L630.70,745.67 L631.20,745.67 L631.70,745.67 L632.20,745.67 L632.70,745.67 L633.20,745.67 L633.70,745.67 L634.20,745.67 L634.70,745.67 L635.20,745.67 L635.70,745.67 L636.20,745.67 L636.70,745.68 L637.20,745.68 L637.70,745.68 L638.20,745.68 L638.70,745.68 L639.20,745.68 L639.70,745.68 L640.20,745.68 L640.70,745.68 L641.20,745.68 L641.70,745.68 L642.20,745.68 L642.70,745.68 L643.20,745.68 L643.70,745.68 L644.20,745.68 L644.70,745.68 L645.20,745.68 L645.70,745.68 L646.20,745.68 L646.70,745.68 L647.20,745.69 L647.70,745.69 L648.20,745.69 L648.70,745.69 L649.20,745.69 L649.70,745.69 L650.20,745.69 L650.70,745.69 L651.20,745.69 L651.70,745.69 L652.20,745.69 L652.70,745.69 L653.20,745.69 L653.70,745.69 L654.20,745.69 L654.70,745.69 L655.20,745.69 L655.70,745.69 L656.20,745.69 L656.70,745.69 L657.20,745.69 L657.70,745.69 L658.20,745.70 L658.70,745.70 L659.20,745.70 L659.70,745.70 L660.20,745.70 L660.70,745.70 L661.20,745.70 L661.70,745.70 L662.20,745.70 L662.70,745.70 L663.20,745.70 L663.70,745.70 L664.20,745.70 L664.70,745.70 L665.20,745.70 L665.70,745.70 L666.20,745.70 L666.70,745.70 L667.20,745.70 L667.70,745.70 L668.20,745.70 L668.70,745.70 L669.20,745.71 L669.70,745.71 L670.20,745.71 L670.70,745.71 L671.20,745.71 L671.70,745.71 L672.20,745.71 L672.70,745.71 L673.20,745.71 L673.70,745.71 L674.20,745.71 L674.70,745.71 L675.20,745.71 L675.70,745.71 L676.20,745.71 L676.70,745.71 L677.20,745.71 L677.70,745.71 L678.20,745.71 L678.70,745.71 L679.20,745.71 L679.70,745.72 L680.20,745.72 L680.70,745.72 L681.20,745.72 L681.70,745.72 L682.20,745.72 L682.70,745.72 L683.20,745.72 L683.70,745.72 L684.20,745.72 L684.70,745.72 L685.20,745.72 L685.70,745.72 L686.20,745.72 L686.70,745.72 L687.20,745.72 L687.70,745.72 L688.20,745.72 L688.70,745.72 L689.20,745.72 L689.70,745.72 L690.20,745.72 L690.70,745.73 L691.20,745.73 L691.70,745.73 L692.20,745.73 L692.70,745.73 L693.20,745.73 L693.70,745.73 L694.20,745.73 L694.70,745.73 L695.20,745.73 L695.70,745.73 L696.20,745.73 L696.70,745.73 L697.20,745.73 L697.70,745.73 L698.20,745.73 L698.70,745.73 L699.20,745.73 L699.70,745.73 L700.20,745.73 L700.70,745.73 L701.20,745.73 L701.70,745.74 L702.20,745.74 L702.70,745.74 L703.20,745.74 L703.70,745.74 L704.20,745.74 L704.70,745.74 L705.20,745.74 L705.70,745.74 L706.20,745.74 L706.70,745.74 L707.20,745.74 L707.70,745.74 L708.20,745.74 L708.70,745.74 L709.20,745.74 L709.70,745.74 L710.20,745.74 L710.70,745.74 L711.20,745.74 L711.70,745.74 L712.20,745.73 L712.70,745.73 L713.20,745.73 L713.70,745.73 L714.20,745.72 L714.70,745.72 L715.20,745.71 L715.70,745.70 L716.20,745.69 L716.70,745.68 L717.20,745.66 L717.70,745.64 L718.20,745.62 L718.70,745.59 L719.20,745.56 L719.70,745.52 L720.20,745.47 L720.70,745.41 L721.20,745.35 L721.70,745.27 L722.20,745.18 L722.70,745.08 L723.20,744.96 L723.70,744.82 L724.20,744.67 L724.70,744.48 L725.20,744.28 L725.70,744.04 L726.20,743.77 L726.70,743.47 L727.20,743.13 L727.70,742.75 L728.20,742.33 L728.70,741.86 L729.20,741.34 L729.70,740.77 L730.20,740.15 L730.70,739.46 L731.20,738.72 L731.70,737.92 L732.20,737.05 L732.70,736.12 L733.20,735.14 L733.70,734.09 L734.20,732.99 L734.70,731.83 L735.20,730.63 L735.70,729.38 L736.20,728.09 L736.70,726.78 L737.20,725.45 L737.70,724.11 L738.20,722.77 L738.70,721.45 L739.20,720.16 L739.70,718.92 L740.20,717.74 L740.70,716.63 L741.20,715.62 L741.70,714.72 L742.20,713.95 L742.70,713.33 L743.20,712.88 L743.70,712.63 L744.20,712.66 L744.70,712.95 L745.20,713.44 L745.70,714.09 L746.20,714.89 L746.70,715.82 L747.20,716.85 L747.70,717.97 L748.20,719.17 L748.70,720.43 L749.20,721.72 L749.70,723.05 L750.20,724.39 L750.70,725.73 L751.20,727.06 L751.70,728.37 L752.20,729.64 L752.70,730.89 L753.20,732.08 L753.70,733.23 L754.20,734.32 L754.70,735.36 L755.20,736.34 L755.70,737.25 L756.20,738.10 L756.70,738.90 L757.20,739.63 L757.70,740.30 L758.20,740.92 L758.70,741.48 L759.20,741.99 L759.70,742.45 L760.20,742.86 L760.70,743.24 L761.20,743.57 L761.70,743.86 L762.20,744.12 L762.70,744.36 L763.20,744.56 L763.70,744.74 L764.20,744.89 L764.70,745.03 L765.20,745.14 L765.70,745.24 L766.20,745.33 L766.70,745.41 L767.20,745.47 L767.70,745.52 L768.20,745.57 L768.70,745.61 L769.20,745.64 L769.70,745.67 L770.20,745.69 L770.70,745.71 L771.20,745.73 L771.70,745.74 L772.20,745.75 L772.70,745.76 L773.20,745.77 L773.70,745.78 L774.20,745.78 L774.70,745.79 L775.20,745.79 L775.70,745.79 L776.20,745.80 L776.70,745.80 L777.20,745.80 L777.70,745.80 L778.20,745.80 L778.70,745.80 L779.20,745.80 L779.70,745.81 L780.20,745.81 L780.70,745.81 L781.20,745.81 L781.70,745.81 L782.20,745.81 L782.70,745.81 L783.20,745.81 L783.70,745.81 L784.20,745.81 L784.70,745.81 L785.20,745.81 L785.70,745.81 L786.20,745.81 L786.70,745.81 L787.20,745.81 L787.70,745.81 L788.20,745.82 L788.70,745.82 L789.20,745.82 L789.70,745.82 L790.20,745.82 L790.70,745.82 L791.20,745.82 L791.70,745.82 L792.20,745.82 L792.70,745.82 L793.20,745.82 L793.70,745.82 L794.20,745.82 L794.70,745.82 L795.20,745.82 L795.70,745.82 L796.20,745.82 L796.70,745.82 L797.20,745.82 L797.70,745.82 L798.20,745.82 L798.70,745.82 L799.20,745.83 L799.70,745.83 L800.20,745.83 L800.70,745.83 L801.20,745.83 L801.70,745.83 L802.20,745.83 L802.70,745.83 L803.20,745.83 L803.70,745.83 L804.20,745.83 L804.70,745.83 L805.20,745.83 L805.70,745.83 L806.20,745.83 L806.70,745.83 L807.20,745.83 L807.70,745.83 L808.20,745.83 L808.70,745.83 L809.20,745.83 L809.70,745.83 L810.20,745.84 L810.70,745.84 L811.20,745.84 L811.70,745.84 L812.20,745.84 L812.70,745.84 L813.20,745.84 L813.70,745.84 L814.20,745.84 L814.70,745.84 L815.20,745.84 L815.70,745.84 L816.20,745.84 L816.70,745.84 L817.20,745.84 L817.70,745.84 L818.20,745.84 L818.70,745.84 L819.20,745.84 L819.70,745.84 L820.20,745.84 L820.70,745.85 L821.20,745.85 L821.70,745.85 L822.20,745.85 L822.70,745.85 L823.20,745.85 L823.70,745.85 L824.20,745.85 L824.70,745.85 L825.20,745.85 L825.70,745.85 L826.20,745.85 L826.70,745.85 L827.20,745.85 L827.70,745.85 L828.20,745.85 L828.70,745.85 L829.20,745.85 L829.70,745.85 L830.20,745.85 L830.70,745.85 L831.20,745.85 L831.70,745.86 L832.20,745.86 L832.70,745.86 L833.20,745.86 L833.70,745.86 L834.20,745.86 L834.70,745.86 L835.20,745.86 L835.70,745.86 L836.20,745.86 L836.70,745.86 L837.20,745.86 L837.70,745.86 L838.20,745.86 L838.70,745.86 L839.20,745.86 L839.70,745.86 L840.20,745.86 L840.70,745.86 L841.20,745.86 L841.70,745.86 L842.20,745.86 L842.70,745.87 L843.20,745.87 L843.70,745.87 L844.20,745.87 L844.70,745.87 L845.20,745.87 L845.70,745.87 L846.20,745.87 L846.70,745.87 L847.20,745.87 L847.70,745.87 L848.20,745.87 L848.70,745.87 L849.20,745.87 L849.70,745.87 L850.20,745.87 L850.70,745.87 L851.20,745.87 L851.70,745.87 L852.20,745.87 L852.70,745.87 L853.20,745.88 L853.70,745.88 L854.20,745.88 L854.70,745.88 L855.20,745.88 L855.70,745.88 L856.20,745.88 L856.70,745.88 L857.20,745.88 L857.70,745.88 L858.20,745.88 L858.70,745.88 L859.20,745.88 L859.70,745.88 L860.20,745.88 L860.70,745.88 L861.20,745.88 L861.70,745.88 L862.20,745.88 L862.70,745.88 L863.20,745.88 L863.70,745.88 L864.20,745.89 L864.70,745.89 L865.20,745.89 L865.70,745.89 L866.20,745.89 L866.70,745.89 L867.20,745.89 L867.70,745.89 L868.20,745.89 L868.70,745.89 L869.20,745.89 L869.70,745.89 L870.20,745.89 L870.70,745.89 L871.20,745.89 L871.70,745.89 L872.20,745.89 L872.70,745.89 L873.20,745.89 L873.70,745.89 L874.20,745.89 L874.70,745.89 L875.20,745.90 L875.70,745.90 L876.20,745.90 L876.70,745.90 L877.20,745.90 L877.70,745.90 L878.20,745.90 L878.70,745.90 L879.20,745.90 L879.70,745.90 L880.20,745.90 L880.70,745.90 L881.20,745.90 L881.70,745.90 L882.20,745.90 L882.70,745.90 L883.20,745.90 L883.70,745.90 L884.20,745.90 L884.70,745.90 L885.20,745.90 L885.70,745.91 L886.20,745.91 L886.70,745.91 L887.20,745.91 L887.70,745.91 L888.20,745.91 L888.70,745.91 L889.20,745.91 L889.70,745.91 L890.20,745.91 L890.70,745.91 L891.20,745.91 L891.70,745.91 L892.20,745.91 L892.70,745.91 L893.20,745.91 L893.70,745.91 L894.20,745.91 L894.70,745.91 L895.20,745.91 L895.70,745.91 L896.20,745.91 L896.70,745.92 L897.20,745.92 L897.70,745.92 L898.20,745.92 L898.70,745.92 L899.20,745.92 L899.70,745.92 L900.20,745.92 L900.70,745.92 L901.20,745.92 L901.70,745.92 L902.20,745.92 L902.70,745.92 L903.20,745.92 L903.70,745.92 L904.20,745.92 L904.70,745.92 L905.20,745.92 L905.70,745.92 L906.20,745.92 L906.70,745.92 L907.20,745.92 L907.70,745.93 L908.20,745.93 L908.70,745.93 L909.20,745.93 L909.70,745.93 L910.20,745.93 L910.70,745.93 L911.20,745.93 L911.70,745.93 L912.20,745.93 L912.70,745.93 L913.20,745.93 L913.70,745.93 L914.20,745.93 L914.70,745.93 L915.20,745.93 L915.70,745.93 L916.20,745.93 L916.70,745.93 L917.20,745.93 L917.70,745.93 L918.20,745.93 L918.70,745.94 L919.20,745.94 L919.70,745.94 L920.20,745.94 L920.70,745.94 L921.20,745.94 L921.70,745.94 L922.20,745.94 L922.70,745.94 L923.20,745.94 L923.70,745.94 L924.20,745.94 L924.70,745.94 L925.20,745.94 L925.70,745.94 L926.20,745.94 L926.70,745.94 L927.20,745.94 L927.70,745.94 L928.20,745.94 L928.70,745.94 L929.20,745.95 L929.70,745.95 L930.20,745.95 L930.70,745.95 L931.20,745.95 L931.70,745.95 L932.20,745.95 L932.70,745.95 L933.20,745.95 L933.70,745.95 L934.20,745.95 L934.70,745.95 L935.20,745.95 L935.70,745.95 L936.20,745.95 L936.70,745.95 L937.20,745.95 L937.70,745.95 L938.20,745.95 L938.70,745.95 L939.20,745.95 L939.70,745.95 L940.20,745.96 L940.70,745.96 L941.20,745.96 L941.70,745.96 L942.20,745.96 L942.70,745.96 L943.20,745.96 L943.70,745.96 L944.20,745.96 L944.70,745.96 L945.20,745.96 L945.70,745.96 L946.20,745.96 L946.70,745.96 L947.20,745.96 L947.70,745.96 L948.20,745.96 L948.70,745.96 L949.20,745.96 L949.70,745.96 L950.20,745.96 L950.70,745.96 L951.20,745.97 L951.70,745.97 L952.20,745.97 L952.70,745.97 L953.20,745.97 L953.70,745.97 L954.20,745.97 L954.70,745.97 L955.20,745.97 L955.70,745.97 L956.20,745.97 L956.70,745.97 L957.20,745.97 L957.70,745.97 L958.20,745.97 L958.70,745.97 L959.20,745.97 L959.70,745.97 L960.20,745.97 L960.70,745.97 L961.20,745.97 L961.70,745.98 L962.20,745.98 L962.70,745.98 L963.20,745.98 L963.70,745.98 L964.20,745.98 L964.70,745.98 L965.20,745.98 L965.70,745.98 L966.20,745.98 L966.70,745.98 L967.20,745.98 L967.70,745.98 L968.20,745.98 L968.70,745.98 L969.20,745.98 L969.70,745.98 L970.20,745.98 L970.70,745.98 L971.20,745.98 L971.70,745.98 L972.20,745.98 L972.70,745.99 L973.20,745.99 L973.70,745.99 L974.20,745.99 L974.70,745.99 L975.20,745.99 L975.70,745.99 L976.20,745.99 L976.70,745.99 L977.20,745.99 L977.70,745.99 L978.20,745.99 L978.70,745.99 L979.20,745.99 L979.70,745.99 L980.20,745.99 L980.70,745.99 L981.20,745.99 L981.70,745.99 L982.20,745.99 L982.70,745.99 L983.20,745.99 L983.70,746.00 L984.20,746.00 L984.70,746.00 L985.20,746.00 L985.70,746.00 L986.20,746.00 L986.70,746.00 L987.20,746.00 L987.70,746.00 L988.20,746.00 L988.70,746.00" fill="none" stroke="#000000" stroke-width="5.2" stroke-linejoin="round"/></svg></body></html>
